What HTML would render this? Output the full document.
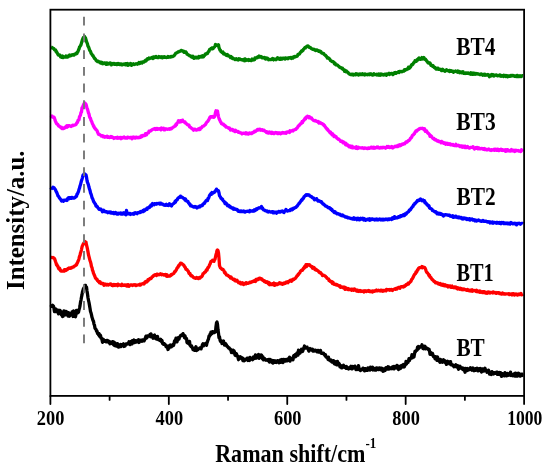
<!DOCTYPE html>
<html><head><meta charset="utf-8"><title>Raman spectra</title>
<style>html,body{margin:0;padding:0;background:#fff;overflow:hidden}svg{display:block}</style>
</head><body>
<svg width="550" height="471" viewBox="0 0 550 471">
<rect width="550" height="471" fill="#fff"/>
<g fill="none" stroke-width="3.3" stroke-linejoin="round" stroke-linecap="butt">
<path stroke="#000" d="M51.0,305.0 L51.5,306.2 L52.0,305.7 L52.5,305.2 L53.0,306.6 L53.5,306.1 L54.0,308.7 L54.5,311.7 L55.0,308.7 L55.5,308.9 L56.0,311.5 L56.5,311.7 L57.0,311.6 L57.5,310.0 L58.0,312.2 L58.5,313.9 L59.0,310.4 L59.5,312.6 L60.0,310.3 L60.5,312.0 L61.0,311.4 L61.5,314.9 L62.0,313.3 L62.5,316.5 L63.0,316.3 L63.5,315.5 L64.0,310.9 L64.5,314.3 L65.0,314.9 L65.5,314.8 L66.0,311.4 L66.5,313.2 L67.0,312.1 L67.5,312.5 L68.0,316.1 L68.5,312.7 L69.0,314.3 L69.5,316.2 L70.0,313.5 L70.5,314.4 L71.0,314.8 L71.5,314.6 L72.0,312.0 L72.5,314.3 L73.0,316.5 L73.5,310.8 L74.0,315.2 L74.5,313.6 L75.0,312.0 L75.5,316.8 L76.0,314.3 L76.5,310.3 L77.0,312.4 L77.5,313.0 L78.0,311.1 L78.5,312.3 L79.0,309.8 L79.5,308.1 L80.0,305.9 L80.5,302.2 L81.0,300.1 L81.5,297.1 L82.0,294.7 L82.5,291.8 L83.0,290.2 L83.5,288.6 L84.0,287.8 L84.5,287.1 L85.0,285.3 L85.5,285.4 L86.0,286.9 L86.5,287.0 L87.0,290.9 L87.5,294.1 L88.0,297.7 L88.5,300.2 L89.0,302.5 L89.5,305.4 L90.0,308.2 L90.5,311.5 L91.0,312.8 L91.5,314.9 L92.0,317.3 L92.5,318.7 L93.0,320.5 L93.5,321.2 L94.0,324.1 L94.5,325.2 L95.0,328.3 L95.5,328.9 L96.0,329.3 L96.5,331.2 L97.0,331.0 L97.5,333.5 L98.0,333.3 L98.5,334.8 L99.0,333.6 L99.5,336.3 L100.0,334.9 L100.5,335.4 L101.0,338.1 L101.5,338.1 L102.0,339.7 L102.5,342.3 L103.0,339.2 L103.5,339.6 L104.0,340.7 L104.5,341.2 L105.0,340.7 L105.5,340.8 L106.0,341.9 L106.5,341.9 L107.0,340.4 L107.5,341.6 L108.0,341.9 L108.5,340.9 L109.0,342.6 L109.5,341.6 L110.0,343.8 L110.5,343.2 L111.0,343.3 L111.5,342.8 L112.0,343.5 L112.5,341.6 L113.0,342.8 L113.5,344.7 L114.0,342.1 L114.5,345.6 L115.0,342.9 L115.5,345.8 L116.0,344.2 L116.5,346.1 L117.0,345.5 L117.5,343.7 L118.0,346.8 L118.5,347.1 L119.0,345.4 L119.5,345.2 L120.0,345.3 L120.5,344.4 L121.0,346.6 L121.5,344.8 L122.0,345.3 L122.5,344.4 L123.0,344.6 L123.5,343.8 L124.0,346.5 L124.5,344.9 L125.0,346.1 L125.5,344.9 L126.0,344.0 L126.5,344.1 L127.0,343.6 L127.5,344.0 L128.0,343.3 L128.5,343.1 L129.0,341.7 L129.5,342.1 L130.0,344.6 L130.5,341.9 L131.0,341.4 L131.5,342.8 L132.0,343.9 L132.5,340.6 L133.0,341.9 L133.5,341.3 L134.0,340.0 L134.5,342.7 L135.0,341.7 L135.5,341.7 L136.0,340.7 L136.5,342.0 L137.0,340.8 L137.5,341.1 L138.0,340.0 L138.5,339.8 L139.0,342.5 L139.5,340.4 L140.0,341.2 L140.5,340.8 L141.0,340.2 L141.5,340.1 L142.0,341.2 L142.5,340.0 L143.0,340.0 L143.5,339.9 L144.0,340.9 L144.5,339.9 L145.0,339.1 L145.5,337.5 L146.0,336.1 L146.5,338.1 L147.0,337.6 L147.5,335.9 L148.0,336.3 L148.5,336.2 L149.0,336.0 L149.5,336.0 L150.0,334.5 L150.5,336.7 L151.0,333.8 L151.5,336.3 L152.0,336.1 L152.5,336.8 L153.0,338.2 L153.5,338.0 L154.0,335.4 L154.5,335.1 L155.0,338.2 L155.5,336.4 L156.0,337.8 L156.5,339.1 L157.0,336.7 L157.5,336.5 L158.0,339.4 L158.5,339.6 L159.0,339.6 L159.5,340.3 L160.0,339.7 L160.5,339.3 L161.0,341.2 L161.5,340.8 L162.0,340.5 L162.5,343.4 L163.0,343.3 L163.5,344.4 L164.0,343.4 L164.5,344.3 L165.0,344.4 L165.5,345.0 L166.0,346.6 L166.5,345.9 L167.0,347.4 L167.5,347.6 L168.0,349.5 L168.5,345.8 L169.0,348.2 L169.5,347.0 L170.0,346.8 L170.5,345.0 L171.0,345.8 L171.5,346.7 L172.0,345.4 L172.5,345.2 L173.0,344.4 L173.5,345.5 L174.0,343.8 L174.5,341.0 L175.0,342.2 L175.5,340.2 L176.0,338.2 L176.5,340.5 L177.0,341.9 L177.5,339.8 L178.0,337.8 L178.5,337.5 L179.0,339.1 L179.5,337.3 L180.0,336.5 L180.5,335.7 L181.0,335.2 L181.5,335.5 L182.0,335.0 L182.5,334.7 L183.0,333.6 L183.5,335.7 L184.0,335.0 L184.5,337.7 L185.0,335.9 L185.5,338.0 L186.0,339.0 L186.5,338.4 L187.0,342.5 L187.5,342.9 L188.0,341.4 L188.5,343.5 L189.0,343.8 L189.5,341.3 L190.0,345.2 L190.5,345.6 L191.0,346.5 L191.5,345.8 L192.0,347.3 L192.5,347.8 L193.0,349.6 L193.5,348.9 L194.0,348.5 L194.5,350.3 L195.0,348.0 L195.5,348.3 L196.0,346.7 L196.5,350.5 L197.0,349.8 L197.5,349.8 L198.0,349.5 L198.5,348.9 L199.0,348.9 L199.5,348.2 L200.0,347.9 L200.5,347.7 L201.0,348.9 L201.5,347.3 L202.0,346.1 L202.5,344.6 L203.0,343.7 L203.5,345.8 L204.0,344.6 L204.5,344.3 L205.0,344.1 L205.5,343.4 L206.0,344.6 L206.5,345.3 L207.0,342.8 L207.5,341.6 L208.0,340.1 L208.5,339.1 L209.0,336.1 L209.5,336.3 L210.0,334.3 L210.5,335.0 L211.0,332.1 L211.5,332.9 L212.0,333.7 L212.5,331.7 L213.0,331.6 L213.5,332.7 L214.0,332.7 L214.5,331.7 L215.0,332.3 L215.5,331.7 L216.0,326.4 L216.5,322.9 L217.0,322.0 L217.5,324.3 L218.0,329.6 L218.5,333.2 L219.0,337.7 L219.5,336.7 L220.0,340.0 L220.5,341.3 L221.0,340.6 L221.5,341.5 L222.0,343.5 L222.5,341.6 L223.0,341.5 L223.5,341.1 L224.0,343.1 L224.5,345.2 L225.0,345.2 L225.5,343.6 L226.0,344.2 L226.5,345.1 L227.0,346.4 L227.5,346.4 L228.0,347.3 L228.5,347.9 L229.0,347.7 L229.5,348.5 L230.0,349.2 L230.5,349.4 L231.0,350.5 L231.5,352.5 L232.0,351.5 L232.5,351.5 L233.0,350.1 L233.5,352.9 L234.0,350.9 L234.5,352.0 L235.0,355.1 L235.5,355.5 L236.0,355.0 L236.5,353.8 L237.0,355.8 L237.5,355.8 L238.0,357.6 L238.5,359.7 L239.0,357.8 L239.5,356.9 L240.0,356.7 L240.5,358.2 L241.0,358.3 L241.5,357.5 L242.0,359.1 L242.5,357.9 L243.0,360.6 L243.5,360.7 L244.0,360.8 L244.5,359.2 L245.0,360.3 L245.5,359.7 L246.0,359.4 L246.5,359.4 L247.0,358.3 L247.5,358.1 L248.0,360.5 L248.5,359.3 L249.0,359.6 L249.5,360.4 L250.0,357.3 L250.5,358.2 L251.0,359.1 L251.5,359.2 L252.0,358.3 L252.5,359.7 L253.0,358.6 L253.5,356.8 L254.0,356.9 L254.5,358.5 L255.0,357.8 L255.5,354.9 L256.0,358.2 L256.5,357.1 L257.0,357.6 L257.5,355.5 L258.0,355.4 L258.5,354.4 L259.0,358.4 L259.5,355.4 L260.0,357.5 L260.5,355.3 L261.0,356.6 L261.5,355.0 L262.0,356.8 L262.5,358.8 L263.0,356.9 L263.5,359.9 L264.0,359.5 L264.5,358.4 L265.0,359.4 L265.5,359.7 L266.0,360.3 L266.5,359.9 L267.0,359.7 L267.5,360.4 L268.0,359.7 L268.5,359.5 L269.0,360.9 L269.5,362.0 L270.0,359.4 L270.5,361.2 L271.0,360.5 L271.5,360.2 L272.0,362.3 L272.5,360.8 L273.0,363.1 L273.5,360.6 L274.0,361.9 L274.5,361.3 L275.0,360.8 L275.5,362.3 L276.0,361.5 L276.5,362.4 L277.0,361.7 L277.5,360.6 L278.0,361.7 L278.5,361.8 L279.0,362.8 L279.5,360.8 L280.0,361.7 L280.5,359.9 L281.0,362.4 L281.5,360.4 L282.0,359.6 L282.5,361.4 L283.0,362.5 L283.5,359.5 L284.0,359.9 L284.5,360.1 L285.0,359.6 L285.5,361.1 L286.0,359.6 L286.5,359.6 L287.0,360.9 L287.5,359.2 L288.0,360.4 L288.5,358.7 L289.0,358.2 L289.5,357.3 L290.0,361.2 L290.5,358.6 L291.0,359.0 L291.5,358.4 L292.0,358.4 L292.5,358.0 L293.0,359.8 L293.5,356.3 L294.0,355.4 L294.5,355.6 L295.0,354.8 L295.5,356.7 L296.0,356.3 L296.5,353.9 L297.0,352.9 L297.5,353.6 L298.0,355.1 L298.5,350.1 L299.0,353.4 L299.5,351.2 L300.0,353.2 L300.5,350.5 L301.0,351.1 L301.5,349.3 L302.0,349.5 L302.5,351.5 L303.0,350.3 L303.5,348.5 L304.0,347.5 L304.5,346.0 L305.0,347.6 L305.5,348.0 L306.0,348.0 L306.5,348.1 L307.0,347.1 L307.5,348.4 L308.0,348.6 L308.5,350.3 L309.0,351.1 L309.5,349.1 L310.0,348.6 L310.5,349.6 L311.0,349.2 L311.5,349.2 L312.0,350.1 L312.5,349.2 L313.0,351.1 L313.5,350.5 L314.0,351.0 L314.5,350.7 L315.0,350.2 L315.5,350.1 L316.0,351.0 L316.5,350.8 L317.0,351.8 L317.5,351.7 L318.0,350.4 L318.5,352.1 L319.0,350.7 L319.5,351.7 L320.0,352.2 L320.5,350.4 L321.0,353.0 L321.5,353.3 L322.0,353.2 L322.5,353.1 L323.0,353.5 L323.5,353.2 L324.0,354.4 L324.5,354.5 L325.0,355.7 L325.5,354.8 L326.0,356.9 L326.5,357.3 L327.0,357.5 L327.5,357.7 L328.0,359.2 L328.5,357.2 L329.0,359.9 L329.5,360.0 L330.0,360.4 L330.5,360.9 L331.0,360.0 L331.5,360.8 L332.0,362.1 L332.5,362.1 L333.0,362.2 L333.5,360.6 L334.0,363.1 L334.5,364.0 L335.0,364.1 L335.5,363.5 L336.0,361.8 L336.5,364.8 L337.0,363.8 L337.5,361.4 L338.0,364.9 L338.5,363.0 L339.0,363.5 L339.5,364.4 L340.0,366.8 L340.5,365.2 L341.0,366.1 L341.5,367.9 L342.0,367.9 L342.5,366.2 L343.0,366.3 L343.5,365.3 L344.0,366.1 L344.5,367.4 L345.0,367.5 L345.5,367.3 L346.0,368.4 L346.5,366.5 L347.0,367.4 L347.5,368.4 L348.0,368.3 L348.5,368.9 L349.0,368.3 L349.5,367.6 L350.0,368.4 L350.5,367.0 L351.0,366.3 L351.5,368.8 L352.0,368.2 L352.5,368.7 L353.0,366.5 L353.5,368.0 L354.0,367.8 L354.5,367.6 L355.0,366.1 L355.5,368.2 L356.0,369.6 L356.5,369.0 L357.0,368.0 L357.5,368.6 L358.0,369.5 L358.5,365.6 L359.0,368.5 L359.5,369.3 L360.0,369.4 L360.5,370.6 L361.0,369.9 L361.5,369.1 L362.0,369.1 L362.5,369.6 L363.0,368.1 L363.5,368.7 L364.0,369.8 L364.5,370.9 L365.0,368.6 L365.5,368.7 L366.0,369.0 L366.5,370.3 L367.0,368.8 L367.5,370.4 L368.0,367.8 L368.5,368.6 L369.0,368.6 L369.5,369.7 L370.0,370.0 L370.5,367.2 L371.0,367.8 L371.5,369.2 L372.0,368.1 L372.5,367.2 L373.0,370.0 L373.5,369.4 L374.0,369.4 L374.5,368.4 L375.0,370.0 L375.5,368.6 L376.0,370.1 L376.5,367.9 L377.0,368.0 L377.5,369.1 L378.0,368.1 L378.5,369.6 L379.0,369.2 L379.5,367.9 L380.0,369.0 L380.5,368.5 L381.0,369.9 L381.5,368.2 L382.0,368.4 L382.5,370.2 L383.0,371.3 L383.5,371.1 L384.0,368.9 L384.5,369.1 L385.0,370.5 L385.5,368.6 L386.0,367.6 L386.5,368.8 L387.0,369.1 L387.5,367.7 L388.0,366.7 L388.5,366.9 L389.0,369.1 L389.5,367.5 L390.0,368.1 L390.5,368.4 L391.0,368.8 L391.5,367.7 L392.0,368.5 L392.5,366.9 L393.0,367.4 L393.5,366.6 L394.0,368.9 L394.5,367.5 L395.0,366.6 L395.5,367.0 L396.0,367.0 L396.5,367.9 L397.0,365.3 L397.5,365.8 L398.0,366.4 L398.5,369.5 L399.0,367.7 L399.5,366.4 L400.0,367.2 L400.5,368.5 L401.0,365.8 L401.5,365.5 L402.0,367.1 L402.5,366.1 L403.0,366.1 L403.5,364.5 L404.0,367.0 L404.5,366.5 L405.0,364.9 L405.5,364.7 L406.0,361.4 L406.5,363.9 L407.0,362.5 L407.5,362.7 L408.0,362.4 L408.5,360.8 L409.0,358.7 L409.5,360.5 L410.0,358.7 L410.5,358.6 L411.0,357.7 L411.5,357.4 L412.0,354.6 L412.5,357.9 L413.0,356.2 L413.5,356.5 L414.0,356.8 L414.5,354.0 L415.0,351.3 L415.5,351.6 L416.0,350.5 L416.5,350.4 L417.0,350.2 L417.5,347.2 L418.0,349.1 L418.5,346.5 L419.0,348.1 L419.5,347.4 L420.0,347.0 L420.5,347.0 L421.0,346.3 L421.5,346.1 L422.0,344.8 L422.5,346.5 L423.0,348.5 L423.5,348.7 L424.0,348.1 L424.5,347.6 L425.0,346.3 L425.5,348.9 L426.0,347.6 L426.5,347.9 L427.0,348.0 L427.5,348.8 L428.0,348.7 L428.5,349.7 L429.0,349.2 L429.5,350.7 L430.0,354.3 L430.5,352.3 L431.0,352.7 L431.5,354.1 L432.0,354.8 L432.5,353.4 L433.0,354.9 L433.5,356.6 L434.0,356.4 L434.5,356.7 L435.0,358.7 L435.5,356.7 L436.0,358.0 L436.5,357.8 L437.0,360.4 L437.5,357.0 L438.0,358.8 L438.5,359.4 L439.0,361.0 L439.5,361.2 L440.0,362.3 L440.5,359.3 L441.0,362.0 L441.5,361.0 L442.0,360.8 L442.5,362.3 L443.0,360.8 L443.5,359.7 L444.0,361.7 L444.5,360.5 L445.0,361.6 L445.5,362.8 L446.0,362.9 L446.5,364.4 L447.0,362.6 L447.5,361.2 L448.0,362.2 L448.5,362.2 L449.0,362.0 L449.5,363.9 L450.0,362.9 L450.5,361.6 L451.0,364.8 L451.5,364.1 L452.0,364.8 L452.5,364.8 L453.0,365.6 L453.5,365.2 L454.0,366.7 L454.5,366.1 L455.0,366.3 L455.5,366.6 L456.0,364.8 L456.5,366.4 L457.0,366.5 L457.5,367.3 L458.0,365.8 L458.5,369.3 L459.0,367.8 L459.5,366.6 L460.0,366.2 L460.5,367.9 L461.0,368.3 L461.5,367.7 L462.0,368.7 L462.5,368.0 L463.0,369.5 L463.5,368.2 L464.0,369.1 L464.5,370.3 L465.0,372.2 L465.5,368.3 L466.0,369.0 L466.5,368.7 L467.0,370.6 L467.5,368.5 L468.0,369.4 L468.5,369.9 L469.0,368.9 L469.5,369.0 L470.0,369.6 L470.5,367.8 L471.0,368.5 L471.5,369.6 L472.0,370.2 L472.5,369.8 L473.0,368.0 L473.5,369.4 L474.0,370.8 L474.5,370.4 L475.0,369.7 L475.5,368.7 L476.0,370.3 L476.5,368.9 L477.0,368.2 L477.5,368.5 L478.0,370.9 L478.5,369.5 L479.0,370.5 L479.5,368.7 L480.0,370.2 L480.5,368.5 L481.0,369.0 L481.5,372.0 L482.0,370.2 L482.5,368.9 L483.0,369.4 L483.5,370.0 L484.0,371.1 L484.5,369.4 L485.0,368.2 L485.5,370.0 L486.0,370.5 L486.5,370.7 L487.0,372.3 L487.5,371.4 L488.0,372.1 L488.5,370.2 L489.0,372.6 L489.5,374.1 L490.0,372.8 L490.5,372.5 L491.0,372.5 L491.5,374.5 L492.0,371.7 L492.5,372.7 L493.0,373.4 L493.5,373.9 L494.0,372.6 L494.5,373.5 L495.0,372.9 L495.5,373.4 L496.0,373.2 L496.5,372.1 L497.0,373.4 L497.5,374.4 L498.0,372.5 L498.5,373.3 L499.0,374.4 L499.5,372.5 L500.0,373.9 L500.5,372.6 L501.0,375.0 L501.5,376.4 L502.0,376.1 L502.5,373.7 L503.0,374.8 L503.5,374.1 L504.0,374.1 L504.5,375.8 L505.0,372.7 L505.5,375.3 L506.0,374.1 L506.5,375.8 L507.0,374.5 L507.5,373.5 L508.0,374.6 L508.5,375.2 L509.0,374.4 L509.5,374.9 L510.0,373.9 L510.5,372.1 L511.0,375.5 L511.5,375.3 L512.0,374.7 L512.5,374.6 L513.0,375.7 L513.5,374.1 L514.0,373.8 L514.5,374.4 L515.0,376.0 L515.5,373.1 L516.0,376.0 L516.5,374.0 L517.0,373.5 L517.5,376.1 L518.0,374.6 L518.5,373.3 L519.0,374.4 L519.5,375.8 L520.0,376.1 L520.5,374.3 L521.0,375.2 L521.5,375.6 L522.0,374.1 L522.5,375.2 L523.0,374.8"/>
<path stroke="#f00" d="M51.0,257.4 L51.5,257.4 L52.0,257.7 L52.5,257.7 L53.0,257.5 L53.5,257.7 L54.0,258.5 L54.5,258.6 L55.0,259.9 L55.5,261.5 L56.0,262.8 L56.5,264.9 L57.0,264.7 L57.5,266.2 L58.0,266.5 L58.5,268.3 L59.0,269.0 L59.5,268.2 L60.0,269.3 L60.5,270.5 L61.0,271.0 L61.5,271.2 L62.0,271.0 L62.5,271.2 L63.0,271.2 L63.5,270.8 L64.0,271.1 L64.5,269.6 L65.0,270.6 L65.5,269.7 L66.0,270.4 L66.5,269.6 L67.0,269.1 L67.5,269.4 L68.0,268.6 L68.5,268.4 L69.0,267.9 L69.5,268.3 L70.0,268.3 L70.5,268.3 L71.0,267.7 L71.5,268.0 L72.0,267.4 L72.5,267.2 L73.0,267.2 L73.5,267.2 L74.0,266.4 L74.5,266.2 L75.0,265.9 L75.5,265.6 L76.0,264.7 L76.5,264.9 L77.0,263.4 L77.5,262.8 L78.0,261.2 L78.5,260.4 L79.0,258.7 L79.5,256.4 L80.0,255.5 L80.5,252.9 L81.0,251.7 L81.5,249.5 L82.0,247.0 L82.5,245.5 L83.0,244.7 L83.5,243.6 L84.0,242.8 L84.5,242.2 L85.0,241.6 L85.5,242.5 L86.0,242.2 L86.5,245.0 L87.0,246.9 L87.5,249.2 L88.0,251.9 L88.5,254.8 L89.0,256.6 L89.5,258.7 L90.0,260.7 L90.5,261.9 L91.0,263.9 L91.5,266.7 L92.0,267.5 L92.5,270.2 L93.0,271.2 L93.5,273.3 L94.0,274.3 L94.5,275.5 L95.0,276.7 L95.5,278.2 L96.0,278.5 L96.5,279.2 L97.0,279.4 L97.5,280.7 L98.0,280.8 L98.5,281.7 L99.0,281.8 L99.5,282.9 L100.0,281.7 L100.5,282.7 L101.0,283.5 L101.5,283.2 L102.0,283.3 L102.5,283.7 L103.0,283.5 L103.5,284.2 L104.0,285.3 L104.5,284.9 L105.0,284.0 L105.5,284.1 L106.0,284.4 L106.5,285.0 L107.0,284.3 L107.5,284.4 L108.0,285.1 L108.5,285.1 L109.0,284.6 L109.5,284.3 L110.0,284.1 L110.5,284.5 L111.0,283.9 L111.5,285.2 L112.0,284.6 L112.5,285.1 L113.0,285.7 L113.5,285.4 L114.0,284.5 L114.5,285.3 L115.0,285.5 L115.5,284.7 L116.0,284.6 L116.5,285.0 L117.0,284.4 L117.5,285.7 L118.0,284.1 L118.5,284.6 L119.0,285.0 L119.5,285.0 L120.0,285.2 L120.5,285.3 L121.0,285.1 L121.5,285.6 L122.0,284.3 L122.5,285.2 L123.0,284.9 L123.5,285.3 L124.0,285.3 L124.5,284.8 L125.0,284.9 L125.5,285.5 L126.0,285.3 L126.5,284.9 L127.0,286.1 L127.5,286.2 L128.0,284.6 L128.5,285.3 L129.0,286.2 L129.5,285.5 L130.0,285.3 L130.5,285.1 L131.0,284.9 L131.5,285.1 L132.0,284.9 L132.5,285.4 L133.0,284.9 L133.5,284.9 L134.0,284.6 L134.5,285.1 L135.0,284.7 L135.5,285.0 L136.0,285.5 L136.5,285.2 L137.0,285.2 L137.5,285.1 L138.0,285.0 L138.5,284.8 L139.0,284.7 L139.5,285.0 L140.0,284.2 L140.5,285.1 L141.0,284.4 L141.5,283.9 L142.0,283.9 L142.5,283.7 L143.0,283.8 L143.5,283.3 L144.0,283.9 L144.5,282.9 L145.0,282.0 L145.5,282.4 L146.0,281.5 L146.5,281.9 L147.0,281.8 L147.5,281.1 L148.0,279.7 L148.5,279.4 L149.0,279.9 L149.5,278.8 L150.0,278.3 L150.5,278.4 L151.0,278.6 L151.5,277.8 L152.0,277.0 L152.5,276.7 L153.0,276.5 L153.5,275.6 L154.0,275.1 L154.5,275.3 L155.0,274.7 L155.5,274.8 L156.0,274.7 L156.5,275.5 L157.0,274.1 L157.5,274.3 L158.0,274.3 L158.5,274.6 L159.0,274.9 L159.5,274.2 L160.0,274.1 L160.5,273.8 L161.0,274.2 L161.5,274.8 L162.0,274.7 L162.5,274.3 L163.0,274.6 L163.5,274.8 L164.0,275.1 L164.5,274.7 L165.0,274.9 L165.5,274.4 L166.0,274.8 L166.5,276.2 L167.0,274.8 L167.5,275.8 L168.0,276.3 L168.5,276.1 L169.0,276.0 L169.5,276.2 L170.0,276.0 L170.5,275.7 L171.0,274.6 L171.5,275.0 L172.0,274.3 L172.5,274.0 L173.0,273.9 L173.5,273.6 L174.0,273.1 L174.5,271.9 L175.0,271.7 L175.5,271.1 L176.0,270.2 L176.5,269.5 L177.0,268.2 L177.5,267.5 L178.0,267.3 L178.5,265.7 L179.0,265.7 L179.5,264.7 L180.0,264.2 L180.5,263.2 L181.0,263.2 L181.5,263.4 L182.0,263.9 L182.5,264.3 L183.0,264.5 L183.5,265.1 L184.0,265.5 L184.5,266.7 L185.0,267.1 L185.5,268.1 L186.0,269.4 L186.5,269.4 L187.0,269.5 L187.5,270.4 L188.0,270.9 L188.5,271.7 L189.0,273.4 L189.5,273.6 L190.0,273.5 L190.5,275.0 L191.0,275.7 L191.5,275.5 L192.0,275.8 L192.5,276.4 L193.0,277.0 L193.5,277.4 L194.0,277.8 L194.5,278.0 L195.0,278.1 L195.5,278.4 L196.0,278.2 L196.5,277.4 L197.0,278.1 L197.5,278.3 L198.0,278.0 L198.5,278.5 L199.0,277.9 L199.5,277.4 L200.0,278.1 L200.5,277.4 L201.0,276.9 L201.5,276.8 L202.0,276.3 L202.5,275.4 L203.0,273.6 L203.5,273.7 L204.0,273.2 L204.5,272.3 L205.0,272.2 L205.5,272.0 L206.0,270.6 L206.5,269.7 L207.0,270.3 L207.5,268.5 L208.0,267.5 L208.5,267.3 L209.0,266.5 L209.5,264.9 L210.0,264.3 L210.5,262.7 L211.0,261.5 L211.5,261.2 L212.0,261.1 L212.5,260.3 L213.0,260.6 L213.5,260.3 L214.0,261.4 L214.5,259.6 L215.0,259.3 L215.5,256.8 L216.0,254.7 L216.5,252.9 L217.0,250.5 L217.5,249.9 L218.0,250.7 L218.5,252.9 L219.0,258.2 L219.5,265.7 L220.0,266.9 L220.5,268.0 L221.0,268.1 L221.5,268.7 L222.0,269.4 L222.5,269.5 L223.0,269.4 L223.5,270.2 L224.0,270.8 L224.5,272.7 L225.0,272.2 L225.5,273.7 L226.0,273.9 L226.5,274.9 L227.0,275.1 L227.5,275.1 L228.0,275.4 L228.5,276.0 L229.0,276.4 L229.5,276.5 L230.0,277.0 L230.5,278.1 L231.0,277.0 L231.5,278.2 L232.0,278.1 L232.5,278.8 L233.0,279.4 L233.5,279.4 L234.0,280.0 L234.5,279.3 L235.0,280.7 L235.5,280.3 L236.0,281.1 L236.5,281.1 L237.0,280.2 L237.5,281.2 L238.0,281.9 L238.5,282.7 L239.0,282.4 L239.5,282.7 L240.0,282.2 L240.5,283.6 L241.0,284.0 L241.5,283.4 L242.0,283.4 L242.5,282.8 L243.0,283.9 L243.5,284.6 L244.0,283.8 L244.5,284.0 L245.0,283.6 L245.5,282.9 L246.0,283.9 L246.5,282.7 L247.0,283.1 L247.5,283.2 L248.0,283.4 L248.5,283.1 L249.0,283.0 L249.5,282.5 L250.0,282.1 L250.5,282.6 L251.0,282.2 L251.5,281.8 L252.0,281.7 L252.5,281.9 L253.0,281.2 L253.5,281.2 L254.0,280.8 L254.5,281.3 L255.0,281.0 L255.5,281.4 L256.0,279.5 L256.5,279.5 L257.0,279.9 L257.5,279.1 L258.0,278.8 L258.5,279.5 L259.0,278.5 L259.5,278.1 L260.0,278.1 L260.5,278.9 L261.0,279.1 L261.5,278.7 L262.0,279.1 L262.5,280.1 L263.0,280.5 L263.5,280.4 L264.0,281.3 L264.5,281.7 L265.0,281.0 L265.5,281.9 L266.0,282.4 L266.5,282.2 L267.0,281.7 L267.5,282.7 L268.0,283.4 L268.5,283.9 L269.0,282.5 L269.5,284.7 L270.0,283.3 L270.5,284.3 L271.0,284.5 L271.5,284.5 L272.0,284.2 L272.5,283.7 L273.0,284.5 L273.5,283.9 L274.0,283.1 L274.5,285.4 L275.0,284.4 L275.5,284.9 L276.0,283.7 L276.5,284.7 L277.0,284.7 L277.5,284.6 L278.0,283.9 L278.5,283.4 L279.0,283.8 L279.5,282.8 L280.0,283.0 L280.5,283.7 L281.0,283.2 L281.5,283.5 L282.0,283.5 L282.5,284.3 L283.0,283.9 L283.5,283.3 L284.0,283.7 L284.5,282.8 L285.0,282.9 L285.5,283.3 L286.0,282.3 L286.5,282.6 L287.0,281.9 L287.5,282.3 L288.0,282.7 L288.5,281.5 L289.0,281.6 L289.5,280.9 L290.0,280.5 L290.5,280.2 L291.0,281.1 L291.5,281.3 L292.0,280.3 L292.5,279.5 L293.0,279.9 L293.5,279.2 L294.0,279.4 L294.5,278.9 L295.0,278.6 L295.5,278.3 L296.0,277.4 L296.5,276.9 L297.0,275.8 L297.5,275.7 L298.0,274.6 L298.5,274.4 L299.0,273.4 L299.5,273.1 L300.0,272.6 L300.5,271.1 L301.0,270.8 L301.5,270.2 L302.0,270.4 L302.5,270.2 L303.0,269.3 L303.5,268.2 L304.0,268.4 L304.5,266.6 L305.0,267.3 L305.5,265.9 L306.0,264.6 L306.5,266.6 L307.0,265.9 L307.5,264.6 L308.0,265.1 L308.5,265.0 L309.0,265.2 L309.5,264.7 L310.0,265.3 L310.5,266.0 L311.0,266.2 L311.5,267.0 L312.0,266.8 L312.5,268.2 L313.0,267.3 L313.5,268.1 L314.0,267.5 L314.5,268.2 L315.0,269.6 L315.5,269.0 L316.0,270.0 L316.5,270.0 L317.0,270.0 L317.5,270.6 L318.0,270.9 L318.5,271.3 L319.0,272.2 L319.5,272.5 L320.0,272.4 L320.5,272.6 L321.0,273.5 L321.5,273.7 L322.0,274.5 L322.5,275.6 L323.0,275.2 L323.5,275.2 L324.0,275.5 L324.5,275.6 L325.0,276.0 L325.5,276.4 L326.0,277.0 L326.5,277.4 L327.0,278.3 L327.5,278.3 L328.0,278.8 L328.5,278.8 L329.0,280.4 L329.5,280.3 L330.0,281.3 L330.5,281.3 L331.0,281.9 L331.5,281.6 L332.0,282.4 L332.5,283.6 L333.0,282.3 L333.5,283.6 L334.0,284.2 L334.5,283.9 L335.0,284.4 L335.5,284.8 L336.0,284.3 L336.5,285.0 L337.0,284.6 L337.5,285.0 L338.0,285.2 L338.5,285.6 L339.0,286.0 L339.5,286.3 L340.0,285.7 L340.5,287.4 L341.0,287.2 L341.5,287.2 L342.0,287.0 L342.5,287.3 L343.0,287.7 L343.5,287.8 L344.0,287.1 L344.5,288.3 L345.0,289.4 L345.5,287.5 L346.0,288.8 L346.5,288.7 L347.0,288.6 L347.5,289.4 L348.0,288.4 L348.5,289.1 L349.0,289.7 L349.5,289.1 L350.0,289.1 L350.5,289.4 L351.0,289.3 L351.5,290.2 L352.0,289.2 L352.5,290.1 L353.0,289.3 L353.5,290.2 L354.0,289.9 L354.5,288.9 L355.0,290.1 L355.5,289.8 L356.0,290.1 L356.5,291.0 L357.0,290.0 L357.5,290.1 L358.0,291.2 L358.5,290.7 L359.0,291.4 L359.5,290.9 L360.0,290.4 L360.5,290.9 L361.0,291.5 L361.5,291.4 L362.0,291.0 L362.5,291.1 L363.0,291.0 L363.5,290.9 L364.0,292.0 L364.5,291.2 L365.0,290.7 L365.5,291.0 L366.0,291.5 L366.5,291.5 L367.0,291.1 L367.5,290.9 L368.0,291.2 L368.5,290.5 L369.0,290.6 L369.5,291.5 L370.0,291.0 L370.5,291.3 L371.0,291.7 L371.5,291.4 L372.0,291.1 L372.5,292.0 L373.0,291.4 L373.5,290.9 L374.0,291.4 L374.5,291.2 L375.0,290.7 L375.5,291.0 L376.0,290.9 L376.5,290.1 L377.0,290.9 L377.5,290.8 L378.0,290.7 L378.5,290.2 L379.0,290.7 L379.5,290.8 L380.0,290.8 L380.5,290.3 L381.0,291.0 L381.5,290.2 L382.0,290.6 L382.5,291.2 L383.0,290.3 L383.5,290.3 L384.0,291.0 L384.5,290.3 L385.0,290.3 L385.5,290.5 L386.0,290.8 L386.5,289.4 L387.0,289.9 L387.5,289.8 L388.0,289.7 L388.5,289.8 L389.0,289.7 L389.5,290.2 L390.0,289.6 L390.5,290.0 L391.0,290.1 L391.5,289.5 L392.0,289.8 L392.5,290.4 L393.0,289.8 L393.5,289.3 L394.0,289.4 L394.5,288.9 L395.0,289.2 L395.5,289.3 L396.0,288.4 L396.5,288.5 L397.0,288.9 L397.5,288.0 L398.0,288.2 L398.5,287.4 L399.0,287.3 L399.5,287.3 L400.0,288.2 L400.5,287.0 L401.0,286.8 L401.5,286.6 L402.0,286.6 L402.5,286.8 L403.0,286.5 L403.5,287.1 L404.0,286.2 L404.5,286.5 L405.0,285.8 L405.5,285.7 L406.0,284.6 L406.5,284.9 L407.0,284.6 L407.5,284.2 L408.0,283.1 L408.5,284.0 L409.0,283.0 L409.5,282.6 L410.0,282.2 L410.5,281.6 L411.0,281.2 L411.5,279.7 L412.0,279.0 L412.5,278.6 L413.0,277.6 L413.5,276.5 L414.0,275.4 L414.5,274.5 L415.0,274.0 L415.5,273.7 L416.0,272.0 L416.5,272.2 L417.0,271.2 L417.5,269.9 L418.0,269.8 L418.5,268.4 L419.0,267.9 L419.5,267.6 L420.0,267.7 L420.5,267.5 L421.0,267.3 L421.5,267.5 L422.0,266.6 L422.5,267.7 L423.0,266.9 L423.5,267.3 L424.0,267.4 L424.5,267.4 L425.0,268.0 L425.5,269.1 L426.0,270.6 L426.5,271.9 L427.0,272.7 L427.5,272.8 L428.0,273.6 L428.5,274.3 L429.0,275.6 L429.5,275.2 L430.0,277.2 L430.5,277.1 L431.0,277.6 L431.5,278.6 L432.0,279.4 L432.5,279.6 L433.0,280.4 L433.5,280.5 L434.0,281.4 L434.5,281.8 L435.0,281.6 L435.5,282.7 L436.0,282.5 L436.5,282.8 L437.0,282.6 L437.5,283.1 L438.0,283.8 L438.5,283.2 L439.0,284.2 L439.5,284.3 L440.0,284.5 L440.5,283.6 L441.0,284.7 L441.5,285.1 L442.0,284.7 L442.5,285.2 L443.0,284.2 L443.5,285.6 L444.0,285.1 L444.5,285.8 L445.0,284.8 L445.5,285.9 L446.0,285.6 L446.5,286.1 L447.0,285.5 L447.5,285.7 L448.0,287.0 L448.5,285.8 L449.0,285.9 L449.5,286.2 L450.0,286.0 L450.5,287.0 L451.0,287.3 L451.5,286.4 L452.0,286.1 L452.5,287.4 L453.0,287.5 L453.5,287.5 L454.0,287.7 L454.5,287.0 L455.0,287.4 L455.5,287.0 L456.0,287.1 L456.5,288.2 L457.0,287.6 L457.5,289.0 L458.0,288.2 L458.5,288.0 L459.0,288.7 L459.5,289.2 L460.0,288.8 L460.5,288.2 L461.0,289.0 L461.5,289.5 L462.0,288.8 L462.5,288.8 L463.0,289.7 L463.5,289.4 L464.0,289.0 L464.5,289.4 L465.0,289.3 L465.5,289.9 L466.0,289.9 L466.5,290.4 L467.0,290.3 L467.5,289.4 L468.0,290.3 L468.5,290.6 L469.0,290.5 L469.5,290.8 L470.0,290.2 L470.5,290.1 L471.0,291.0 L471.5,290.2 L472.0,289.8 L472.5,291.2 L473.0,290.6 L473.5,290.8 L474.0,290.4 L474.5,290.5 L475.0,290.6 L475.5,291.0 L476.0,291.4 L476.5,290.3 L477.0,291.6 L477.5,290.9 L478.0,291.0 L478.5,291.8 L479.0,291.5 L479.5,291.0 L480.0,292.4 L480.5,291.3 L481.0,291.9 L481.5,291.9 L482.0,292.4 L482.5,291.7 L483.0,292.4 L483.5,291.7 L484.0,292.5 L484.5,291.8 L485.0,292.0 L485.5,293.0 L486.0,292.3 L486.5,292.3 L487.0,293.2 L487.5,292.5 L488.0,292.0 L488.5,292.7 L489.0,292.0 L489.5,293.0 L490.0,293.1 L490.5,292.3 L491.0,292.4 L491.5,292.7 L492.0,292.7 L492.5,292.3 L493.0,293.0 L493.5,292.0 L494.0,292.7 L494.5,292.7 L495.0,292.8 L495.5,293.1 L496.0,292.5 L496.5,293.3 L497.0,293.0 L497.5,292.8 L498.0,292.6 L498.5,292.7 L499.0,293.4 L499.5,292.9 L500.0,293.3 L500.5,293.8 L501.0,293.8 L501.5,294.1 L502.0,293.3 L502.5,293.0 L503.0,293.9 L503.5,293.7 L504.0,294.0 L504.5,293.6 L505.0,294.1 L505.5,294.0 L506.0,294.0 L506.5,293.9 L507.0,293.9 L507.5,293.9 L508.0,293.9 L508.5,294.3 L509.0,293.7 L509.5,294.6 L510.0,293.9 L510.5,294.4 L511.0,294.0 L511.5,293.9 L512.0,294.9 L512.5,294.0 L513.0,293.6 L513.5,293.8 L514.0,294.0 L514.5,295.1 L515.0,294.3 L515.5,294.6 L516.0,293.9 L516.5,294.5 L517.0,294.6 L517.5,295.1 L518.0,294.1 L518.5,294.7 L519.0,294.6 L519.5,294.0 L520.0,294.5 L520.5,294.4 L521.0,293.5 L521.5,294.8 L522.0,294.8 L522.5,294.4 L523.0,294.0"/>
<path stroke="#00f" d="M51.0,189.6 L51.5,188.4 L52.0,188.3 L52.5,188.1 L53.0,187.2 L53.5,187.8 L54.0,187.7 L54.5,188.4 L55.0,189.1 L55.5,189.8 L56.0,191.3 L56.5,192.0 L57.0,193.2 L57.5,194.5 L58.0,195.8 L58.5,196.2 L59.0,197.1 L59.5,198.0 L60.0,198.5 L60.5,199.3 L61.0,199.6 L61.5,201.1 L62.0,201.0 L62.5,200.6 L63.0,200.3 L63.5,201.2 L64.0,200.4 L64.5,200.1 L65.0,200.2 L65.5,200.1 L66.0,200.4 L66.5,199.7 L67.0,200.4 L67.5,198.8 L68.0,199.0 L68.5,197.8 L69.0,198.7 L69.5,197.7 L70.0,197.8 L70.5,198.2 L71.0,198.4 L71.5,197.5 L72.0,197.9 L72.5,197.5 L73.0,198.2 L73.5,198.1 L74.0,198.1 L74.5,197.8 L75.0,197.5 L75.5,196.8 L76.0,196.7 L76.5,196.3 L77.0,194.1 L77.5,193.9 L78.0,192.5 L78.5,191.5 L79.0,189.3 L79.5,188.1 L80.0,186.0 L80.5,184.7 L81.0,182.5 L81.5,180.6 L82.0,179.2 L82.5,177.3 L83.0,175.2 L83.5,174.9 L84.0,174.0 L84.5,173.7 L85.0,174.3 L85.5,174.7 L86.0,174.8 L86.5,177.1 L87.0,180.5 L87.5,182.5 L88.0,183.5 L88.5,185.2 L89.0,187.3 L89.5,189.1 L90.0,190.4 L90.5,192.9 L91.0,194.0 L91.5,195.5 L92.0,197.7 L92.5,198.4 L93.0,199.8 L93.5,201.2 L94.0,202.2 L94.5,202.7 L95.0,203.7 L95.5,204.2 L96.0,206.0 L96.5,206.3 L97.0,206.2 L97.5,207.2 L98.0,208.0 L98.5,208.3 L99.0,209.3 L99.5,209.4 L100.0,209.0 L100.5,209.5 L101.0,209.3 L101.5,210.2 L102.0,210.5 L102.5,211.8 L103.0,210.9 L103.5,210.2 L104.0,211.0 L104.5,211.5 L105.0,211.1 L105.5,211.4 L106.0,211.7 L106.5,212.1 L107.0,212.1 L107.5,211.9 L108.0,212.7 L108.5,212.2 L109.0,212.3 L109.5,212.0 L110.0,212.3 L110.5,213.0 L111.0,212.1 L111.5,212.8 L112.0,213.2 L112.5,212.8 L113.0,213.1 L113.5,212.6 L114.0,213.7 L114.5,213.6 L115.0,213.3 L115.5,212.5 L116.0,212.9 L116.5,213.8 L117.0,214.1 L117.5,213.5 L118.0,214.0 L118.5,213.2 L119.0,213.5 L119.5,213.6 L120.0,213.8 L120.5,213.0 L121.0,214.1 L121.5,214.2 L122.0,213.2 L122.5,213.2 L123.0,213.9 L123.5,213.5 L124.0,212.8 L124.5,214.1 L125.0,213.9 L125.5,213.6 L126.0,214.7 L126.5,210.5 L127.0,213.5 L127.5,213.8 L128.0,213.3 L128.5,213.4 L129.0,213.9 L129.5,213.5 L130.0,213.5 L130.5,214.4 L131.0,214.0 L131.5,214.0 L132.0,213.8 L132.5,213.8 L133.0,214.1 L133.5,213.5 L134.0,214.2 L134.5,213.0 L135.0,213.2 L135.5,212.7 L136.0,213.1 L136.5,213.4 L137.0,213.7 L137.5,212.8 L138.0,213.0 L138.5,212.8 L139.0,212.5 L139.5,212.2 L140.0,212.5 L140.5,211.6 L141.0,212.2 L141.5,211.9 L142.0,211.4 L142.5,211.0 L143.0,210.5 L143.5,211.6 L144.0,210.0 L144.5,210.9 L145.0,210.2 L145.5,209.5 L146.0,208.9 L146.5,209.5 L147.0,209.4 L147.5,207.9 L148.0,207.8 L148.5,207.9 L149.0,207.2 L149.5,207.5 L150.0,206.1 L150.5,206.2 L151.0,205.0 L151.5,206.0 L152.0,204.5 L152.5,203.6 L153.0,204.2 L153.5,204.1 L154.0,204.8 L154.5,203.7 L155.0,203.7 L155.5,203.9 L156.0,204.2 L156.5,203.5 L157.0,203.9 L157.5,203.7 L158.0,203.4 L158.5,203.6 L159.0,203.6 L159.5,203.2 L160.0,204.1 L160.5,203.1 L161.0,204.2 L161.5,204.2 L162.0,203.9 L162.5,203.8 L163.0,204.3 L163.5,204.8 L164.0,205.1 L164.5,205.1 L165.0,205.4 L165.5,204.8 L166.0,205.1 L166.5,204.3 L167.0,205.3 L167.5,205.1 L168.0,204.8 L168.5,205.5 L169.0,205.3 L169.5,203.8 L170.0,205.0 L170.5,204.4 L171.0,205.4 L171.5,206.0 L172.0,204.6 L172.5,204.5 L173.0,203.9 L173.5,203.6 L174.0,203.2 L174.5,202.9 L175.0,201.5 L175.5,202.0 L176.0,200.3 L176.5,200.2 L177.0,200.0 L177.5,199.3 L178.0,198.1 L178.5,197.8 L179.0,197.4 L179.5,197.2 L180.0,197.4 L180.5,196.1 L181.0,196.8 L181.5,197.0 L182.0,197.1 L182.5,197.4 L183.0,198.2 L183.5,198.2 L184.0,198.7 L184.5,198.9 L185.0,199.9 L185.5,198.9 L186.0,200.7 L186.5,200.6 L187.0,201.2 L187.5,201.4 L188.0,201.6 L188.5,202.8 L189.0,203.3 L189.5,204.4 L190.0,204.1 L190.5,205.8 L191.0,205.7 L191.5,205.9 L192.0,206.1 L192.5,206.5 L193.0,206.6 L193.5,207.0 L194.0,207.2 L194.5,207.1 L195.0,206.6 L195.5,207.1 L196.0,206.8 L196.5,207.3 L197.0,208.0 L197.5,207.5 L198.0,207.1 L198.5,206.5 L199.0,206.4 L199.5,206.1 L200.0,206.9 L200.5,206.0 L201.0,206.0 L201.5,205.4 L202.0,205.3 L202.5,205.5 L203.0,204.1 L203.5,203.8 L204.0,203.2 L204.5,203.4 L205.0,202.1 L205.5,201.5 L206.0,200.8 L206.5,200.2 L207.0,200.4 L207.5,200.6 L208.0,198.4 L208.5,198.3 L209.0,197.0 L209.5,195.5 L210.0,194.9 L210.5,194.2 L211.0,193.5 L211.5,194.3 L212.0,192.5 L212.5,193.3 L213.0,193.1 L213.5,192.5 L214.0,192.4 L214.5,192.2 L215.0,191.2 L215.5,190.7 L216.0,190.4 L216.5,189.1 L217.0,190.6 L217.5,191.0 L218.0,190.6 L218.5,190.8 L219.0,192.9 L219.5,195.7 L220.0,196.4 L220.5,197.2 L221.0,198.4 L221.5,198.3 L222.0,199.2 L222.5,199.1 L223.0,200.4 L223.5,201.1 L224.0,201.4 L224.5,201.9 L225.0,203.5 L225.5,202.6 L226.0,203.2 L226.5,203.7 L227.0,204.9 L227.5,205.7 L228.0,205.3 L228.5,205.2 L229.0,205.7 L229.5,206.7 L230.0,206.2 L230.5,207.5 L231.0,207.7 L231.5,207.5 L232.0,208.0 L232.5,208.3 L233.0,208.9 L233.5,208.1 L234.0,209.2 L234.5,208.8 L235.0,208.9 L235.5,209.4 L236.0,209.5 L236.5,209.4 L237.0,209.3 L237.5,209.8 L238.0,211.0 L238.5,211.4 L239.0,211.1 L239.5,211.5 L240.0,210.9 L240.5,211.2 L241.0,211.5 L241.5,211.0 L242.0,211.1 L242.5,211.6 L243.0,211.5 L243.5,211.1 L244.0,211.7 L244.5,211.5 L245.0,212.0 L245.5,211.5 L246.0,211.4 L246.5,211.5 L247.0,211.4 L247.5,211.2 L248.0,211.2 L248.5,211.7 L249.0,211.6 L249.5,211.8 L250.0,210.5 L250.5,211.0 L251.0,211.0 L251.5,211.2 L252.0,210.8 L252.5,210.8 L253.0,211.2 L253.5,210.8 L254.0,210.0 L254.5,210.9 L255.0,210.5 L255.5,209.5 L256.0,209.9 L256.5,208.9 L257.0,209.4 L257.5,208.6 L258.0,208.1 L258.5,208.1 L259.0,207.7 L259.5,208.0 L260.0,207.9 L260.5,207.8 L261.0,207.6 L261.5,206.5 L262.0,208.4 L262.5,207.9 L263.0,209.2 L263.5,209.9 L264.0,210.0 L264.5,210.1 L265.0,210.5 L265.5,210.8 L266.0,210.8 L266.5,210.9 L267.0,210.8 L267.5,211.8 L268.0,211.4 L268.5,211.9 L269.0,211.4 L269.5,211.6 L270.0,211.6 L270.5,212.0 L271.0,212.2 L271.5,212.0 L272.0,211.7 L272.5,211.7 L273.0,212.7 L273.5,212.0 L274.0,212.0 L274.5,212.8 L275.0,212.6 L275.5,212.4 L276.0,212.0 L276.5,213.2 L277.0,212.4 L277.5,212.4 L278.0,212.1 L278.5,211.5 L279.0,211.5 L279.5,212.2 L280.0,212.2 L280.5,211.8 L281.0,211.4 L281.5,211.2 L282.0,211.6 L282.5,211.0 L283.0,211.9 L283.5,211.9 L284.0,212.6 L284.5,211.6 L285.0,210.9 L285.5,210.7 L286.0,209.5 L286.5,210.6 L287.0,210.7 L287.5,211.1 L288.0,210.8 L288.5,210.7 L289.0,210.4 L289.5,210.4 L290.0,210.6 L290.5,209.4 L291.0,209.4 L291.5,208.9 L292.0,209.9 L292.5,209.6 L293.0,209.1 L293.5,208.1 L294.0,208.4 L294.5,208.0 L295.0,207.8 L295.5,207.4 L296.0,207.3 L296.5,206.5 L297.0,206.5 L297.5,205.7 L298.0,204.8 L298.5,204.2 L299.0,203.4 L299.5,203.3 L300.0,202.2 L300.5,201.8 L301.0,200.9 L301.5,199.9 L302.0,200.3 L302.5,198.9 L303.0,199.0 L303.5,198.2 L304.0,196.7 L304.5,196.4 L305.0,196.0 L305.5,195.3 L306.0,194.8 L306.5,195.3 L307.0,194.6 L307.5,194.9 L308.0,194.6 L308.5,195.1 L309.0,194.9 L309.5,195.5 L310.0,196.1 L310.5,196.2 L311.0,196.4 L311.5,196.5 L312.0,197.4 L312.5,197.8 L313.0,197.9 L313.5,197.9 L314.0,198.7 L314.5,199.8 L315.0,198.9 L315.5,199.4 L316.0,199.6 L316.5,198.6 L317.0,200.0 L317.5,199.9 L318.0,201.0 L318.5,200.6 L319.0,200.6 L319.5,201.1 L320.0,201.5 L320.5,201.5 L321.0,202.0 L321.5,201.8 L322.0,202.6 L322.5,203.4 L323.0,204.2 L323.5,204.1 L324.0,204.3 L324.5,205.1 L325.0,205.4 L325.5,206.1 L326.0,206.2 L326.5,206.1 L327.0,206.7 L327.5,207.0 L328.0,207.5 L328.5,207.8 L329.0,207.8 L329.5,207.6 L330.0,208.6 L330.5,208.4 L331.0,209.6 L331.5,209.9 L332.0,209.5 L332.5,210.8 L333.0,211.2 L333.5,211.2 L334.0,212.2 L334.5,212.6 L335.0,211.7 L335.5,212.9 L336.0,213.0 L336.5,213.3 L337.0,213.8 L337.5,213.4 L338.0,213.7 L338.5,213.9 L339.0,214.2 L339.5,214.7 L340.0,214.3 L340.5,214.7 L341.0,215.5 L341.5,215.4 L342.0,215.8 L342.5,215.0 L343.0,215.7 L343.5,215.9 L344.0,216.3 L344.5,216.2 L345.0,217.0 L345.5,216.8 L346.0,216.9 L346.5,217.1 L347.0,217.5 L347.5,217.2 L348.0,218.0 L348.5,217.8 L349.0,217.8 L349.5,217.9 L350.0,218.2 L350.5,218.5 L351.0,218.6 L351.5,218.5 L352.0,218.8 L352.5,218.5 L353.0,219.1 L353.5,218.6 L354.0,217.8 L354.5,219.3 L355.0,218.9 L355.5,218.4 L356.0,218.8 L356.5,218.5 L357.0,219.8 L357.5,219.2 L358.0,218.3 L358.5,219.2 L359.0,218.9 L359.5,219.9 L360.0,218.6 L360.5,218.2 L361.0,219.2 L361.5,219.0 L362.0,219.0 L362.5,218.3 L363.0,219.4 L363.5,219.9 L364.0,218.5 L364.5,219.8 L365.0,219.1 L365.5,220.3 L366.0,219.5 L366.5,219.3 L367.0,219.8 L367.5,219.6 L368.0,219.1 L368.5,219.7 L369.0,219.2 L369.5,218.7 L370.0,220.3 L370.5,219.3 L371.0,219.2 L371.5,219.6 L372.0,218.8 L372.5,218.9 L373.0,219.3 L373.5,219.3 L374.0,219.6 L374.5,220.0 L375.0,219.3 L375.5,219.8 L376.0,219.8 L376.5,219.1 L377.0,219.7 L377.5,219.2 L378.0,220.0 L378.5,219.8 L379.0,219.6 L379.5,219.0 L380.0,219.6 L380.5,219.3 L381.0,219.9 L381.5,219.5 L382.0,219.3 L382.5,220.0 L383.0,219.9 L383.5,219.3 L384.0,220.0 L384.5,219.4 L385.0,219.3 L385.5,219.5 L386.0,219.0 L386.5,219.1 L387.0,219.2 L387.5,219.8 L388.0,219.7 L388.5,218.9 L389.0,219.6 L389.5,218.8 L390.0,218.9 L390.5,219.0 L391.0,218.7 L391.5,219.5 L392.0,218.5 L392.5,217.8 L393.0,218.7 L393.5,217.9 L394.0,217.8 L394.5,216.6 L395.0,218.2 L395.5,218.0 L396.0,217.9 L396.5,217.8 L397.0,218.0 L397.5,217.2 L398.0,217.5 L398.5,216.6 L399.0,216.7 L399.5,217.1 L400.0,216.7 L400.5,215.8 L401.0,216.4 L401.5,216.0 L402.0,215.5 L402.5,215.8 L403.0,215.3 L403.5,214.6 L404.0,214.5 L404.5,215.5 L405.0,213.9 L405.5,214.3 L406.0,214.1 L406.5,213.7 L407.0,212.5 L407.5,212.4 L408.0,212.0 L408.5,211.8 L409.0,210.6 L409.5,209.9 L410.0,210.2 L410.5,209.7 L411.0,208.8 L411.5,207.8 L412.0,207.5 L412.5,206.7 L413.0,206.4 L413.5,204.9 L414.0,204.8 L414.5,204.1 L415.0,203.1 L415.5,203.1 L416.0,202.5 L416.5,201.8 L417.0,201.6 L417.5,200.4 L418.0,200.5 L418.5,200.5 L419.0,200.2 L419.5,200.4 L420.0,199.2 L420.5,199.0 L421.0,199.7 L421.5,199.9 L422.0,200.7 L422.5,200.3 L423.0,200.0 L423.5,201.0 L424.0,200.6 L424.5,200.7 L425.0,202.9 L425.5,202.5 L426.0,203.2 L426.5,203.7 L427.0,204.8 L427.5,204.7 L428.0,205.7 L428.5,205.5 L429.0,206.0 L429.5,207.8 L430.0,208.3 L430.5,208.4 L431.0,208.7 L431.5,209.2 L432.0,209.2 L432.5,210.6 L433.0,210.6 L433.5,210.9 L434.0,211.2 L434.5,211.8 L435.0,211.9 L435.5,212.3 L436.0,211.8 L436.5,212.8 L437.0,213.7 L437.5,212.8 L438.0,213.2 L438.5,213.9 L439.0,214.1 L439.5,214.1 L440.0,213.3 L440.5,214.3 L441.0,213.7 L441.5,214.0 L442.0,214.7 L442.5,214.4 L443.0,215.0 L443.5,216.0 L444.0,215.1 L444.5,215.2 L445.0,214.6 L445.5,214.7 L446.0,214.6 L446.5,214.9 L447.0,214.8 L447.5,215.1 L448.0,215.3 L448.5,215.1 L449.0,215.0 L449.5,215.1 L450.0,216.0 L450.5,215.9 L451.0,216.4 L451.5,216.5 L452.0,216.0 L452.5,216.6 L453.0,215.8 L453.5,217.4 L454.0,217.1 L454.5,216.6 L455.0,216.3 L455.5,217.0 L456.0,216.2 L456.5,216.7 L457.0,217.5 L457.5,217.3 L458.0,217.1 L458.5,217.8 L459.0,217.1 L459.5,217.7 L460.0,217.5 L460.5,217.5 L461.0,218.1 L461.5,217.6 L462.0,218.9 L462.5,217.9 L463.0,219.1 L463.5,217.9 L464.0,218.7 L464.5,218.0 L465.0,218.1 L465.5,218.8 L466.0,219.1 L466.5,218.4 L467.0,219.5 L467.5,218.7 L468.0,219.2 L468.5,219.4 L469.0,219.6 L469.5,218.6 L470.0,220.1 L470.5,219.8 L471.0,219.4 L471.5,219.3 L472.0,219.0 L472.5,219.3 L473.0,220.1 L473.5,219.8 L474.0,219.6 L474.5,219.9 L475.0,220.9 L475.5,220.1 L476.0,220.1 L476.5,221.0 L477.0,220.7 L477.5,220.6 L478.0,220.4 L478.5,220.0 L479.0,220.3 L479.5,220.6 L480.0,220.8 L480.5,221.1 L481.0,221.3 L481.5,221.2 L482.0,221.3 L482.5,220.8 L483.0,220.4 L483.5,221.2 L484.0,221.0 L484.5,221.2 L485.0,221.4 L485.5,221.1 L486.0,221.2 L486.5,221.7 L487.0,221.8 L487.5,221.6 L488.0,222.1 L488.5,221.9 L489.0,221.6 L489.5,222.1 L490.0,222.9 L490.5,221.9 L491.0,222.7 L491.5,222.8 L492.0,222.9 L492.5,222.0 L493.0,223.2 L493.5,222.5 L494.0,222.3 L494.5,222.4 L495.0,222.8 L495.5,222.6 L496.0,222.5 L496.5,223.2 L497.0,222.4 L497.5,222.3 L498.0,223.1 L498.5,223.1 L499.0,223.3 L499.5,222.4 L500.0,223.3 L500.5,223.1 L501.0,223.7 L501.5,222.5 L502.0,223.1 L502.5,222.9 L503.0,222.4 L503.5,222.8 L504.0,223.6 L504.5,223.0 L505.0,222.9 L505.5,223.6 L506.0,223.7 L506.5,223.7 L507.0,223.0 L507.5,223.3 L508.0,223.8 L508.5,223.1 L509.0,223.1 L509.5,223.8 L510.0,224.1 L510.5,223.0 L511.0,222.4 L511.5,222.9 L512.0,223.2 L512.5,223.5 L513.0,223.9 L513.5,223.6 L514.0,223.4 L514.5,223.8 L515.0,223.3 L515.5,223.7 L516.0,223.5 L516.5,224.9 L517.0,224.1 L517.5,223.4 L518.0,223.4 L518.5,223.6 L519.0,223.1 L519.5,223.5 L520.0,223.5 L520.5,224.2 L521.0,223.7 L521.5,223.5 L522.0,223.3 L522.5,223.4 L523.0,223.9"/>
<path stroke="#f0f" d="M51.0,115.9 L51.5,116.6 L52.0,116.0 L52.5,117.1 L53.0,117.1 L53.5,117.5 L54.0,117.2 L54.5,118.2 L55.0,120.1 L55.5,121.6 L56.0,122.3 L56.5,123.6 L57.0,123.8 L57.5,124.4 L58.0,124.8 L58.5,125.9 L59.0,126.1 L59.5,126.3 L60.0,126.7 L60.5,127.4 L61.0,127.6 L61.5,127.3 L62.0,128.6 L62.5,128.1 L63.0,128.0 L63.5,128.6 L64.0,128.3 L64.5,127.7 L65.0,127.8 L65.5,126.9 L66.0,126.9 L66.5,126.0 L67.0,127.2 L67.5,125.7 L68.0,126.6 L68.5,125.8 L69.0,125.6 L69.5,125.8 L70.0,125.9 L70.5,126.0 L71.0,126.4 L71.5,125.8 L72.0,125.9 L72.5,125.3 L73.0,125.7 L73.5,125.4 L74.0,125.1 L74.5,125.1 L75.0,125.0 L75.5,124.8 L76.0,124.4 L76.5,123.4 L77.0,122.6 L77.5,122.4 L78.0,120.4 L78.5,119.9 L79.0,119.8 L79.5,116.7 L80.0,116.0 L80.5,115.0 L81.0,112.4 L81.5,112.1 L82.0,107.7 L82.5,107.5 L83.0,106.2 L83.5,104.8 L84.0,103.6 L84.5,103.7 L85.0,103.0 L85.5,103.8 L86.0,104.2 L86.5,106.2 L87.0,108.3 L87.5,109.1 L88.0,111.1 L88.5,113.0 L89.0,114.0 L89.5,116.6 L90.0,117.8 L90.5,118.4 L91.0,120.3 L91.5,121.2 L92.0,122.4 L92.5,123.9 L93.0,124.6 L93.5,126.2 L94.0,126.4 L94.5,127.9 L95.0,128.2 L95.5,129.3 L96.0,129.4 L96.5,130.1 L97.0,130.6 L97.5,132.1 L98.0,133.0 L98.5,134.3 L99.0,134.5 L99.5,134.5 L100.0,134.7 L100.5,135.3 L101.0,135.3 L101.5,136.2 L102.0,136.2 L102.5,135.6 L103.0,135.9 L103.5,136.9 L104.0,136.6 L104.5,136.5 L105.0,137.2 L105.5,136.7 L106.0,136.8 L106.5,136.8 L107.0,136.2 L107.5,137.4 L108.0,136.6 L108.5,136.9 L109.0,136.9 L109.5,137.5 L110.0,137.2 L110.5,137.3 L111.0,136.6 L111.5,137.3 L112.0,136.8 L112.5,137.6 L113.0,137.6 L113.5,137.5 L114.0,138.4 L114.5,137.8 L115.0,137.8 L115.5,137.7 L116.0,137.6 L116.5,138.1 L117.0,138.2 L117.5,137.2 L118.0,138.2 L118.5,138.0 L119.0,138.2 L119.5,138.0 L120.0,137.4 L120.5,137.4 L121.0,138.7 L121.5,138.0 L122.0,137.4 L122.5,138.1 L123.0,137.8 L123.5,137.2 L124.0,137.0 L124.5,137.3 L125.0,138.1 L125.5,138.0 L126.0,137.9 L126.5,138.1 L127.0,138.2 L127.5,137.1 L128.0,137.8 L128.5,137.6 L129.0,137.4 L129.5,137.7 L130.0,137.9 L130.5,137.8 L131.0,137.3 L131.5,137.7 L132.0,138.7 L132.5,137.4 L133.0,137.1 L133.5,137.9 L134.0,138.0 L134.5,137.9 L135.0,137.2 L135.5,138.1 L136.0,137.3 L136.5,137.2 L137.0,137.3 L137.5,137.5 L138.0,137.8 L138.5,137.7 L139.0,137.3 L139.5,137.6 L140.0,137.1 L140.5,137.3 L141.0,136.1 L141.5,135.9 L142.0,136.7 L142.5,135.5 L143.0,135.8 L143.5,135.7 L144.0,135.3 L144.5,135.0 L145.0,135.6 L145.5,133.7 L146.0,134.7 L146.5,134.9 L147.0,133.5 L147.5,133.0 L148.0,132.9 L148.5,132.9 L149.0,131.2 L149.5,131.3 L150.0,130.9 L150.5,131.0 L151.0,130.5 L151.5,130.5 L152.0,129.7 L152.5,129.7 L153.0,129.2 L153.5,129.0 L154.0,129.1 L154.5,129.0 L155.0,128.5 L155.5,129.6 L156.0,128.9 L156.5,128.4 L157.0,129.4 L157.5,128.6 L158.0,129.2 L158.5,128.9 L159.0,129.1 L159.5,129.0 L160.0,128.7 L160.5,129.0 L161.0,129.8 L161.5,128.0 L162.0,129.0 L162.5,129.1 L163.0,128.5 L163.5,128.3 L164.0,129.8 L164.5,128.8 L165.0,129.8 L165.5,129.1 L166.0,128.9 L166.5,129.1 L167.0,129.1 L167.5,129.3 L168.0,129.0 L168.5,128.9 L169.0,128.9 L169.5,129.3 L170.0,129.1 L170.5,128.3 L171.0,128.4 L171.5,128.7 L172.0,128.1 L172.5,127.9 L173.0,127.2 L173.5,127.0 L174.0,126.8 L174.5,126.5 L175.0,125.6 L175.5,125.8 L176.0,124.2 L176.5,124.8 L177.0,123.3 L177.5,122.6 L178.0,121.9 L178.5,120.7 L179.0,121.6 L179.5,121.5 L180.0,122.1 L180.5,120.6 L181.0,121.8 L181.5,120.9 L182.0,121.3 L182.5,120.1 L183.0,121.4 L183.5,121.4 L184.0,122.1 L184.5,122.1 L185.0,121.9 L185.5,123.1 L186.0,123.3 L186.5,123.7 L187.0,124.3 L187.5,124.8 L188.0,124.8 L188.5,124.8 L189.0,125.2 L189.5,126.8 L190.0,127.1 L190.5,127.3 L191.0,127.6 L191.5,128.3 L192.0,128.7 L192.5,128.9 L193.0,128.9 L193.5,130.2 L194.0,129.5 L194.5,129.3 L195.0,129.1 L195.5,129.4 L196.0,130.1 L196.5,130.1 L197.0,129.7 L197.5,129.7 L198.0,129.4 L198.5,128.8 L199.0,129.6 L199.5,128.9 L200.0,129.5 L200.5,127.9 L201.0,127.9 L201.5,128.0 L202.0,127.2 L202.5,126.4 L203.0,126.2 L203.5,126.2 L204.0,125.9 L204.5,125.2 L205.0,125.0 L205.5,124.4 L206.0,123.4 L206.5,122.6 L207.0,121.9 L207.5,121.6 L208.0,121.1 L208.5,120.0 L209.0,119.4 L209.5,118.3 L210.0,117.2 L210.5,116.7 L211.0,117.0 L211.5,116.6 L212.0,117.0 L212.5,116.4 L213.0,116.9 L213.5,117.3 L214.0,117.3 L214.5,116.7 L215.0,115.1 L215.5,112.2 L216.0,110.8 L216.5,111.4 L217.0,111.5 L217.5,110.9 L218.0,114.5 L218.5,116.6 L219.0,118.3 L219.5,119.6 L220.0,120.5 L220.5,121.8 L221.0,122.4 L221.5,123.7 L222.0,123.8 L222.5,124.2 L223.0,124.3 L223.5,124.2 L224.0,125.1 L224.5,125.1 L225.0,126.1 L225.5,126.0 L226.0,127.0 L226.5,126.9 L227.0,127.2 L227.5,127.3 L228.0,127.6 L228.5,128.1 L229.0,128.5 L229.5,128.1 L230.0,128.9 L230.5,130.1 L231.0,129.2 L231.5,129.4 L232.0,129.4 L232.5,129.3 L233.0,130.5 L233.5,130.2 L234.0,130.5 L234.5,131.2 L235.0,131.6 L235.5,130.3 L236.0,131.3 L236.5,131.3 L237.0,131.3 L237.5,131.5 L238.0,131.5 L238.5,132.4 L239.0,132.2 L239.5,132.2 L240.0,132.8 L240.5,132.9 L241.0,132.9 L241.5,133.0 L242.0,133.8 L242.5,133.4 L243.0,133.3 L243.5,133.1 L244.0,133.4 L244.5,133.2 L245.0,133.7 L245.5,133.8 L246.0,132.8 L246.5,133.7 L247.0,133.9 L247.5,133.7 L248.0,133.2 L248.5,134.1 L249.0,133.2 L249.5,133.0 L250.0,133.0 L250.5,133.4 L251.0,133.7 L251.5,133.7 L252.0,133.3 L252.5,132.5 L253.0,132.6 L253.5,132.2 L254.0,132.2 L254.5,131.2 L255.0,131.7 L255.5,131.5 L256.0,130.8 L256.5,130.7 L257.0,129.8 L257.5,129.3 L258.0,129.4 L258.5,130.0 L259.0,129.9 L259.5,129.2 L260.0,129.9 L260.5,129.4 L261.0,130.2 L261.5,129.9 L262.0,129.7 L262.5,130.4 L263.0,130.0 L263.5,130.1 L264.0,130.1 L264.5,131.1 L265.0,131.2 L265.5,131.4 L266.0,131.5 L266.5,132.5 L267.0,131.9 L267.5,131.9 L268.0,132.9 L268.5,133.1 L269.0,132.8 L269.5,132.0 L270.0,132.5 L270.5,133.0 L271.0,132.8 L271.5,133.5 L272.0,132.3 L272.5,133.2 L273.0,132.7 L273.5,133.5 L274.0,132.9 L274.5,133.4 L275.0,132.8 L275.5,132.5 L276.0,132.6 L276.5,132.8 L277.0,132.7 L277.5,133.6 L278.0,133.7 L278.5,133.3 L279.0,132.7 L279.5,133.1 L280.0,132.9 L280.5,133.8 L281.0,133.3 L281.5,133.4 L282.0,133.0 L282.5,132.4 L283.0,132.9 L283.5,132.7 L284.0,133.2 L284.5,133.0 L285.0,132.6 L285.5,132.6 L286.0,133.3 L286.5,132.1 L287.0,132.0 L287.5,132.2 L288.0,131.8 L288.5,131.8 L289.0,132.0 L289.5,132.4 L290.0,130.8 L290.5,131.3 L291.0,131.2 L291.5,131.0 L292.0,130.8 L292.5,130.5 L293.0,130.9 L293.5,130.1 L294.0,130.0 L294.5,129.8 L295.0,129.6 L295.5,129.1 L296.0,129.3 L296.5,128.4 L297.0,128.1 L297.5,127.5 L298.0,126.5 L298.5,126.0 L299.0,125.4 L299.5,125.3 L300.0,124.3 L300.5,123.6 L301.0,123.6 L301.5,123.2 L302.0,121.7 L302.5,122.6 L303.0,121.2 L303.5,120.5 L304.0,120.3 L304.5,119.3 L305.0,118.4 L305.5,119.0 L306.0,117.1 L306.5,117.1 L307.0,117.2 L307.5,116.2 L308.0,116.6 L308.5,116.8 L309.0,117.8 L309.5,116.7 L310.0,117.3 L310.5,117.9 L311.0,118.1 L311.5,117.9 L312.0,119.0 L312.5,119.3 L313.0,119.8 L313.5,120.4 L314.0,120.7 L314.5,120.7 L315.0,120.9 L315.5,120.5 L316.0,121.1 L316.5,121.4 L317.0,121.3 L317.5,121.7 L318.0,121.5 L318.5,122.6 L319.0,123.1 L319.5,122.2 L320.0,122.7 L320.5,122.7 L321.0,123.5 L321.5,123.5 L322.0,123.6 L322.5,123.8 L323.0,124.4 L323.5,124.3 L324.0,125.5 L324.5,125.5 L325.0,126.6 L325.5,127.0 L326.0,128.0 L326.5,128.2 L327.0,129.3 L327.5,129.1 L328.0,130.4 L328.5,130.6 L329.0,131.4 L329.5,131.9 L330.0,132.8 L330.5,132.1 L331.0,133.5 L331.5,133.2 L332.0,134.7 L332.5,133.8 L333.0,134.7 L333.5,134.8 L334.0,136.6 L334.5,135.7 L335.0,136.7 L335.5,136.8 L336.0,136.6 L336.5,137.6 L337.0,138.4 L337.5,138.4 L338.0,139.2 L338.5,139.0 L339.0,139.5 L339.5,139.7 L340.0,140.3 L340.5,141.3 L341.0,141.0 L341.5,141.2 L342.0,141.2 L342.5,141.5 L343.0,142.8 L343.5,142.0 L344.0,142.5 L344.5,143.2 L345.0,143.4 L345.5,144.7 L346.0,143.2 L346.5,144.7 L347.0,145.2 L347.5,144.7 L348.0,145.2 L348.5,146.0 L349.0,146.7 L349.5,145.9 L350.0,145.8 L350.5,147.1 L351.0,147.5 L351.5,146.9 L352.0,146.2 L352.5,147.8 L353.0,147.2 L353.5,147.8 L354.0,147.4 L354.5,147.3 L355.0,147.4 L355.5,148.2 L356.0,148.3 L356.5,146.8 L357.0,147.4 L357.5,148.6 L358.0,147.7 L358.5,147.3 L359.0,147.9 L359.5,147.9 L360.0,147.9 L360.5,147.8 L361.0,147.9 L361.5,147.8 L362.0,148.1 L362.5,147.7 L363.0,147.9 L363.5,147.9 L364.0,148.5 L364.5,148.1 L365.0,147.9 L365.5,148.2 L366.0,148.2 L366.5,148.4 L367.0,148.2 L367.5,148.7 L368.0,148.5 L368.5,147.9 L369.0,147.8 L369.5,148.3 L370.0,148.2 L370.5,147.9 L371.0,147.3 L371.5,147.1 L372.0,148.1 L372.5,148.2 L373.0,148.2 L373.5,147.3 L374.0,148.3 L374.5,147.6 L375.0,148.0 L375.5,148.0 L376.0,147.5 L376.5,147.6 L377.0,146.9 L377.5,147.4 L378.0,147.0 L378.5,147.9 L379.0,147.8 L379.5,148.1 L380.0,147.9 L380.5,147.4 L381.0,147.8 L381.5,147.5 L382.0,147.9 L382.5,147.8 L383.0,147.2 L383.5,147.6 L384.0,147.6 L384.5,147.4 L385.0,147.9 L385.5,148.2 L386.0,147.3 L386.5,147.3 L387.0,146.5 L387.5,147.4 L388.0,147.2 L388.5,146.5 L389.0,147.5 L389.5,147.6 L390.0,147.0 L390.5,147.1 L391.0,146.8 L391.5,147.5 L392.0,146.6 L392.5,147.0 L393.0,147.9 L393.5,147.1 L394.0,147.1 L394.5,146.8 L395.0,146.3 L395.5,146.6 L396.0,146.7 L396.5,145.9 L397.0,146.4 L397.5,146.6 L398.0,146.4 L398.5,145.1 L399.0,145.2 L399.5,144.8 L400.0,145.8 L400.5,145.4 L401.0,145.3 L401.5,144.5 L402.0,144.2 L402.5,144.5 L403.0,144.4 L403.5,143.7 L404.0,143.9 L404.5,143.9 L405.0,143.5 L405.5,142.7 L406.0,141.9 L406.5,142.3 L407.0,142.1 L407.5,141.5 L408.0,141.0 L408.5,140.5 L409.0,140.6 L409.5,139.8 L410.0,139.4 L410.5,138.3 L411.0,137.9 L411.5,137.5 L412.0,136.3 L412.5,135.4 L413.0,135.0 L413.5,134.9 L414.0,133.8 L414.5,133.7 L415.0,132.4 L415.5,131.8 L416.0,130.8 L416.5,130.7 L417.0,131.0 L417.5,130.1 L418.0,129.9 L418.5,129.6 L419.0,129.0 L419.5,128.7 L420.0,128.5 L420.5,128.6 L421.0,128.4 L421.5,128.4 L422.0,128.4 L422.5,128.2 L423.0,128.6 L423.5,128.6 L424.0,129.7 L424.5,128.7 L425.0,129.9 L425.5,131.4 L426.0,130.7 L426.5,130.9 L427.0,131.8 L427.5,132.8 L428.0,132.8 L428.5,133.6 L429.0,134.0 L429.5,134.3 L430.0,136.3 L430.5,135.5 L431.0,135.8 L431.5,136.4 L432.0,137.3 L432.5,137.8 L433.0,138.5 L433.5,138.7 L434.0,138.5 L434.5,139.7 L435.0,139.7 L435.5,140.0 L436.0,139.7 L436.5,140.4 L437.0,140.5 L437.5,141.1 L438.0,140.7 L438.5,141.5 L439.0,141.7 L439.5,141.4 L440.0,141.7 L440.5,141.8 L441.0,142.7 L441.5,141.4 L442.0,142.4 L442.5,142.0 L443.0,142.7 L443.5,143.3 L444.0,142.8 L444.5,143.3 L445.0,143.0 L445.5,144.2 L446.0,143.9 L446.5,144.1 L447.0,143.2 L447.5,143.4 L448.0,144.4 L448.5,144.0 L449.0,144.0 L449.5,144.4 L450.0,143.8 L450.5,144.7 L451.0,144.5 L451.5,144.8 L452.0,144.4 L452.5,145.0 L453.0,144.6 L453.5,145.4 L454.0,145.5 L454.5,145.5 L455.0,145.4 L455.5,145.6 L456.0,144.3 L456.5,145.8 L457.0,145.4 L457.5,145.7 L458.0,145.6 L458.5,145.2 L459.0,145.6 L459.5,146.2 L460.0,146.6 L460.5,145.8 L461.0,145.8 L461.5,146.9 L462.0,146.0 L462.5,147.3 L463.0,146.5 L463.5,146.2 L464.0,147.0 L464.5,147.4 L465.0,146.1 L465.5,147.5 L466.0,146.8 L466.5,147.6 L467.0,146.9 L467.5,146.4 L468.0,147.4 L468.5,147.6 L469.0,148.1 L469.5,148.1 L470.0,147.7 L470.5,147.4 L471.0,147.3 L471.5,147.4 L472.0,147.3 L472.5,147.6 L473.0,146.7 L473.5,147.9 L474.0,147.9 L474.5,149.0 L475.0,148.3 L475.5,147.8 L476.0,148.3 L476.5,147.6 L477.0,148.0 L477.5,147.5 L478.0,148.9 L478.5,148.6 L479.0,147.9 L479.5,148.5 L480.0,148.9 L480.5,148.8 L481.0,148.8 L481.5,148.3 L482.0,148.5 L482.5,148.8 L483.0,149.2 L483.5,148.6 L484.0,148.5 L484.5,149.5 L485.0,148.7 L485.5,149.5 L486.0,149.2 L486.5,149.6 L487.0,150.0 L487.5,149.6 L488.0,149.6 L488.5,149.0 L489.0,149.1 L489.5,149.7 L490.0,150.1 L490.5,150.1 L491.0,150.5 L491.5,149.7 L492.0,149.7 L492.5,150.1 L493.0,149.7 L493.5,149.7 L494.0,149.3 L494.5,150.2 L495.0,149.4 L495.5,150.1 L496.0,149.3 L496.5,150.4 L497.0,149.5 L497.5,150.3 L498.0,149.3 L498.5,149.8 L499.0,150.6 L499.5,149.7 L500.0,150.1 L500.5,149.9 L501.0,149.2 L501.5,150.3 L502.0,150.4 L502.5,149.8 L503.0,150.5 L503.5,150.0 L504.0,149.9 L504.5,150.4 L505.0,150.1 L505.5,151.4 L506.0,149.8 L506.5,150.8 L507.0,150.9 L507.5,149.7 L508.0,149.8 L508.5,150.8 L509.0,150.4 L509.5,150.8 L510.0,151.1 L510.5,150.5 L511.0,150.2 L511.5,149.5 L512.0,150.8 L512.5,150.3 L513.0,150.9 L513.5,150.9 L514.0,150.2 L514.5,151.5 L515.0,151.3 L515.5,151.2 L516.0,150.3 L516.5,150.7 L517.0,150.6 L517.5,150.7 L518.0,150.4 L518.5,151.1 L519.0,151.0 L519.5,151.1 L520.0,150.7 L520.5,151.5 L521.0,151.0 L521.5,149.8 L522.0,150.7 L522.5,151.0 L523.0,151.4"/>
<path stroke="#008000" d="M51.0,46.9 L51.5,47.2 L52.0,47.3 L52.5,48.2 L53.0,48.1 L53.5,48.4 L54.0,48.8 L54.5,49.8 L55.0,49.8 L55.5,49.8 L56.0,51.4 L56.5,51.6 L57.0,52.8 L57.5,53.5 L58.0,54.5 L58.5,55.0 L59.0,54.8 L59.5,55.3 L60.0,55.2 L60.5,56.8 L61.0,56.5 L61.5,57.2 L62.0,56.7 L62.5,56.1 L63.0,57.6 L63.5,57.0 L64.0,57.0 L64.5,56.9 L65.0,57.1 L65.5,57.0 L66.0,56.0 L66.5,57.0 L67.0,56.2 L67.5,56.1 L68.0,56.9 L68.5,56.5 L69.0,55.9 L69.5,55.1 L70.0,55.9 L70.5,55.9 L71.0,55.6 L71.5,54.9 L72.0,55.0 L72.5,54.7 L73.0,55.2 L73.5,55.2 L74.0,55.1 L74.5,54.2 L75.0,54.3 L75.5,54.1 L76.0,53.3 L76.5,53.0 L77.0,53.4 L77.5,52.0 L78.0,51.6 L78.5,50.1 L79.0,49.1 L79.5,47.1 L80.0,46.5 L80.5,45.7 L81.0,44.7 L81.5,42.9 L82.0,41.2 L82.5,39.6 L83.0,38.2 L83.5,37.3 L84.0,37.0 L84.5,36.5 L85.0,37.7 L85.5,37.9 L86.0,39.6 L86.5,41.6 L87.0,42.7 L87.5,44.1 L88.0,46.3 L88.5,46.9 L89.0,48.2 L89.5,49.8 L90.0,50.9 L90.5,51.3 L91.0,53.1 L91.5,53.7 L92.0,54.4 L92.5,55.5 L93.0,55.6 L93.5,56.6 L94.0,57.5 L94.5,58.4 L95.0,58.6 L95.5,59.3 L96.0,60.2 L96.5,60.9 L97.0,61.0 L97.5,61.5 L98.0,61.1 L98.5,61.5 L99.0,62.0 L99.5,61.9 L100.0,62.1 L100.5,63.1 L101.0,62.5 L101.5,62.3 L102.0,63.0 L102.5,63.7 L103.0,63.1 L103.5,63.6 L104.0,63.0 L104.5,63.0 L105.0,63.0 L105.5,63.3 L106.0,64.2 L106.5,63.0 L107.0,64.2 L107.5,63.1 L108.0,63.5 L108.5,64.0 L109.0,63.9 L109.5,63.8 L110.0,63.0 L110.5,63.9 L111.0,63.3 L111.5,64.9 L112.0,63.7 L112.5,63.9 L113.0,63.4 L113.5,63.7 L114.0,63.4 L114.5,64.4 L115.0,63.9 L115.5,64.2 L116.0,63.7 L116.5,63.8 L117.0,64.6 L117.5,63.7 L118.0,63.4 L118.5,64.3 L119.0,63.7 L119.5,64.0 L120.0,64.6 L120.5,63.9 L121.0,64.6 L121.5,64.0 L122.0,64.9 L122.5,64.8 L123.0,64.1 L123.5,64.2 L124.0,64.0 L124.5,64.4 L125.0,64.8 L125.5,63.8 L126.0,64.8 L126.5,63.8 L127.0,64.0 L127.5,63.6 L128.0,65.3 L128.5,64.4 L129.0,64.5 L129.5,64.1 L130.0,64.8 L130.5,63.5 L131.0,64.4 L131.5,65.3 L132.0,64.1 L132.5,64.3 L133.0,64.5 L133.5,63.8 L134.0,64.1 L134.5,64.5 L135.0,64.1 L135.5,64.1 L136.0,63.7 L136.5,63.9 L137.0,63.7 L137.5,64.2 L138.0,63.9 L138.5,63.4 L139.0,62.4 L139.5,63.6 L140.0,63.5 L140.5,62.7 L141.0,62.2 L141.5,62.4 L142.0,63.1 L142.5,62.0 L143.0,62.0 L143.5,62.0 L144.0,62.1 L144.5,61.3 L145.0,60.9 L145.5,60.3 L146.0,60.9 L146.5,60.3 L147.0,59.5 L147.5,58.6 L148.0,58.6 L148.5,58.9 L149.0,58.1 L149.5,58.6 L150.0,58.3 L150.5,58.1 L151.0,58.2 L151.5,58.0 L152.0,57.3 L152.5,57.4 L153.0,58.5 L153.5,56.9 L154.0,57.1 L154.5,57.7 L155.0,57.1 L155.5,56.8 L156.0,56.5 L156.5,57.3 L157.0,57.4 L157.5,57.6 L158.0,57.0 L158.5,57.5 L159.0,56.6 L159.5,57.1 L160.0,56.8 L160.5,57.2 L161.0,57.4 L161.5,57.6 L162.0,56.8 L162.5,57.8 L163.0,57.0 L163.5,56.8 L164.0,57.2 L164.5,56.7 L165.0,57.3 L165.5,57.4 L166.0,57.2 L166.5,57.5 L167.0,57.1 L167.5,57.3 L168.0,56.6 L168.5,57.2 L169.0,56.8 L169.5,57.0 L170.0,57.1 L170.5,57.2 L171.0,56.3 L171.5,56.3 L172.0,56.7 L172.5,56.7 L173.0,56.3 L173.5,56.0 L174.0,55.8 L174.5,55.0 L175.0,54.4 L175.5,53.5 L176.0,53.1 L176.5,52.8 L177.0,52.8 L177.5,52.4 L178.0,52.0 L178.5,51.7 L179.0,51.8 L179.5,51.4 L180.0,51.2 L180.5,51.1 L181.0,50.6 L181.5,50.4 L182.0,51.0 L182.5,51.1 L183.0,51.0 L183.5,51.1 L184.0,52.4 L184.5,51.4 L185.0,51.9 L185.5,52.4 L186.0,52.1 L186.5,53.0 L187.0,54.2 L187.5,54.3 L188.0,54.6 L188.5,55.0 L189.0,55.2 L189.5,55.9 L190.0,55.7 L190.5,55.9 L191.0,56.4 L191.5,57.1 L192.0,57.0 L192.5,57.4 L193.0,56.3 L193.5,57.8 L194.0,58.3 L194.5,58.0 L195.0,57.4 L195.5,57.2 L196.0,57.7 L196.5,57.2 L197.0,57.9 L197.5,57.4 L198.0,57.9 L198.5,58.0 L199.0,56.5 L199.5,57.4 L200.0,56.8 L200.5,56.4 L201.0,56.6 L201.5,56.7 L202.0,57.0 L202.5,55.8 L203.0,56.6 L203.5,56.8 L204.0,55.9 L204.5,55.5 L205.0,54.8 L205.5,53.9 L206.0,54.1 L206.5,53.6 L207.0,53.2 L207.5,53.5 L208.0,52.2 L208.5,51.5 L209.0,51.4 L209.5,49.6 L210.0,49.2 L210.5,49.0 L211.0,48.5 L211.5,48.8 L212.0,48.1 L212.5,48.8 L213.0,48.5 L213.5,48.0 L214.0,47.2 L214.5,47.0 L215.0,46.1 L215.5,44.5 L216.0,44.9 L216.5,45.1 L217.0,44.9 L217.5,45.5 L218.0,45.3 L218.5,44.8 L219.0,47.7 L219.5,48.7 L220.0,50.2 L220.5,50.3 L221.0,51.6 L221.5,51.9 L222.0,52.5 L222.5,52.4 L223.0,52.1 L223.5,53.8 L224.0,53.2 L224.5,54.1 L225.0,54.0 L225.5,54.3 L226.0,55.1 L226.5,54.7 L227.0,55.5 L227.5,54.6 L228.0,55.8 L228.5,55.7 L229.0,56.0 L229.5,56.4 L230.0,56.8 L230.5,57.6 L231.0,56.4 L231.5,57.5 L232.0,57.4 L232.5,58.5 L233.0,58.1 L233.5,58.7 L234.0,58.6 L234.5,59.2 L235.0,59.5 L235.5,59.0 L236.0,59.3 L236.5,58.8 L237.0,59.5 L237.5,59.8 L238.0,59.3 L238.5,60.0 L239.0,58.7 L239.5,58.9 L240.0,59.1 L240.5,59.5 L241.0,59.7 L241.5,59.7 L242.0,59.7 L242.5,60.1 L243.0,59.6 L243.5,59.3 L244.0,59.3 L244.5,60.8 L245.0,58.9 L245.5,59.8 L246.0,60.5 L246.5,60.1 L247.0,59.6 L247.5,60.0 L248.0,60.3 L248.5,60.5 L249.0,59.6 L249.5,60.3 L250.0,60.1 L250.5,60.5 L251.0,60.6 L251.5,59.7 L252.0,59.1 L252.5,59.8 L253.0,60.1 L253.5,59.4 L254.0,59.0 L254.5,59.7 L255.0,57.9 L255.5,58.5 L256.0,57.6 L256.5,57.6 L257.0,57.4 L257.5,57.8 L258.0,56.6 L258.5,56.7 L259.0,56.1 L259.5,57.0 L260.0,56.6 L260.5,57.1 L261.0,56.5 L261.5,56.9 L262.0,57.7 L262.5,57.3 L263.0,57.8 L263.5,57.9 L264.0,57.8 L264.5,57.4 L265.0,58.7 L265.5,58.5 L266.0,59.1 L266.5,58.0 L267.0,58.3 L267.5,58.2 L268.0,58.9 L268.5,59.8 L269.0,59.6 L269.5,59.4 L270.0,59.5 L270.5,59.7 L271.0,59.3 L271.5,59.5 L272.0,59.4 L272.5,58.4 L273.0,59.2 L273.5,59.9 L274.0,59.1 L274.5,59.2 L275.0,59.0 L275.5,59.1 L276.0,59.7 L276.5,59.1 L277.0,58.7 L277.5,57.8 L278.0,58.9 L278.5,58.3 L279.0,58.3 L279.5,59.4 L280.0,59.3 L280.5,58.1 L281.0,59.3 L281.5,59.1 L282.0,58.5 L282.5,59.1 L283.0,58.1 L283.5,58.2 L284.0,58.1 L284.5,58.2 L285.0,59.0 L285.5,58.0 L286.0,58.0 L286.5,58.1 L287.0,58.5 L287.5,58.2 L288.0,58.7 L288.5,57.9 L289.0,57.6 L289.5,57.9 L290.0,58.0 L290.5,57.5 L291.0,57.9 L291.5,58.5 L292.0,57.4 L292.5,57.5 L293.0,58.0 L293.5,57.0 L294.0,56.8 L294.5,56.5 L295.0,57.0 L295.5,56.9 L296.0,56.4 L296.5,56.2 L297.0,56.3 L297.5,55.8 L298.0,54.4 L298.5,54.5 L299.0,54.1 L299.5,53.9 L300.0,53.0 L300.5,52.3 L301.0,51.9 L301.5,50.9 L302.0,51.2 L302.5,50.5 L303.0,50.4 L303.5,49.2 L304.0,48.8 L304.5,48.1 L305.0,47.5 L305.5,47.8 L306.0,46.9 L306.5,47.0 L307.0,46.2 L307.5,46.6 L308.0,45.9 L308.5,46.6 L309.0,46.8 L309.5,47.5 L310.0,47.6 L310.5,47.7 L311.0,48.5 L311.5,48.5 L312.0,48.9 L312.5,49.3 L313.0,49.2 L313.5,49.2 L314.0,49.7 L314.5,49.5 L315.0,50.0 L315.5,50.5 L316.0,50.5 L316.5,50.1 L317.0,49.9 L317.5,50.5 L318.0,50.7 L318.5,51.3 L319.0,50.9 L319.5,51.1 L320.0,51.7 L320.5,51.4 L321.0,51.8 L321.5,52.9 L322.0,53.1 L322.5,53.1 L323.0,53.4 L323.5,53.3 L324.0,54.3 L324.5,54.6 L325.0,55.1 L325.5,55.3 L326.0,56.0 L326.5,56.5 L327.0,57.2 L327.5,58.2 L328.0,58.2 L328.5,57.9 L329.0,58.6 L329.5,58.8 L330.0,59.6 L330.5,60.6 L331.0,60.9 L331.5,60.9 L332.0,61.6 L332.5,61.5 L333.0,61.6 L333.5,62.0 L334.0,62.6 L334.5,63.9 L335.0,63.1 L335.5,64.5 L336.0,64.9 L336.5,64.6 L337.0,65.0 L337.5,65.1 L338.0,65.7 L338.5,66.3 L339.0,66.4 L339.5,67.1 L340.0,67.5 L340.5,67.5 L341.0,67.8 L341.5,68.0 L342.0,68.5 L342.5,68.3 L343.0,69.3 L343.5,69.6 L344.0,69.6 L344.5,71.2 L345.0,70.3 L345.5,70.8 L346.0,71.7 L346.5,71.1 L347.0,71.9 L347.5,72.0 L348.0,72.5 L348.5,73.2 L349.0,73.6 L349.5,74.2 L350.0,74.3 L350.5,74.6 L351.0,74.4 L351.5,74.1 L352.0,74.8 L352.5,74.1 L353.0,74.1 L353.5,75.0 L354.0,74.7 L354.5,74.5 L355.0,74.7 L355.5,74.8 L356.0,73.8 L356.5,74.4 L357.0,73.9 L357.5,74.5 L358.0,74.2 L358.5,75.0 L359.0,74.7 L359.5,74.1 L360.0,74.5 L360.5,74.0 L361.0,74.5 L361.5,74.7 L362.0,74.6 L362.5,73.7 L363.0,74.3 L363.5,74.7 L364.0,74.6 L364.5,75.0 L365.0,73.9 L365.5,74.7 L366.0,74.2 L366.5,74.6 L367.0,74.6 L367.5,74.8 L368.0,74.2 L368.5,74.5 L369.0,74.0 L369.5,73.9 L370.0,74.7 L370.5,74.4 L371.0,73.8 L371.5,74.1 L372.0,74.5 L372.5,75.1 L373.0,74.9 L373.5,74.8 L374.0,73.7 L374.5,74.4 L375.0,74.6 L375.5,74.6 L376.0,74.6 L376.5,74.3 L377.0,75.1 L377.5,75.0 L378.0,74.4 L378.5,74.0 L379.0,75.2 L379.5,74.1 L380.0,74.9 L380.5,75.2 L381.0,74.0 L381.5,74.5 L382.0,74.2 L382.5,74.6 L383.0,74.5 L383.5,75.1 L384.0,74.6 L384.5,74.3 L385.0,74.8 L385.5,74.2 L386.0,74.1 L386.5,75.2 L387.0,73.9 L387.5,74.0 L388.0,74.2 L388.5,73.8 L389.0,73.3 L389.5,74.5 L390.0,73.7 L390.5,73.8 L391.0,73.8 L391.5,73.4 L392.0,73.3 L392.5,73.7 L393.0,74.6 L393.5,73.8 L394.0,73.7 L394.5,72.6 L395.0,73.2 L395.5,72.6 L396.0,73.3 L396.5,72.7 L397.0,72.7 L397.5,72.5 L398.0,72.2 L398.5,71.7 L399.0,72.5 L399.5,71.5 L400.0,71.5 L400.5,71.7 L401.0,71.4 L401.5,71.7 L402.0,71.8 L402.5,71.4 L403.0,71.2 L403.5,70.9 L404.0,71.1 L404.5,69.7 L405.0,70.4 L405.5,69.6 L406.0,69.3 L406.5,69.5 L407.0,69.0 L407.5,69.1 L408.0,69.0 L408.5,67.2 L409.0,67.7 L409.5,68.2 L410.0,67.3 L410.5,67.1 L411.0,66.1 L411.5,64.9 L412.0,64.4 L412.5,64.6 L413.0,64.1 L413.5,62.8 L414.0,62.5 L414.5,62.2 L415.0,60.8 L415.5,61.0 L416.0,61.4 L416.5,61.2 L417.0,59.8 L417.5,60.2 L418.0,59.0 L418.5,58.6 L419.0,57.9 L419.5,59.1 L420.0,58.4 L420.5,59.4 L421.0,58.5 L421.5,58.5 L422.0,57.6 L422.5,59.0 L423.0,58.3 L423.5,58.4 L424.0,57.6 L424.5,59.1 L425.0,59.5 L425.5,59.2 L426.0,60.0 L426.5,60.7 L427.0,61.5 L427.5,61.7 L428.0,62.9 L428.5,62.5 L429.0,62.8 L429.5,63.4 L430.0,63.0 L430.5,64.1 L431.0,65.4 L431.5,65.5 L432.0,65.4 L432.5,66.3 L433.0,65.6 L433.5,66.7 L434.0,67.3 L434.5,67.7 L435.0,67.4 L435.5,68.3 L436.0,69.0 L436.5,68.3 L437.0,69.0 L437.5,68.2 L438.0,68.2 L438.5,69.4 L439.0,69.2 L439.5,69.4 L440.0,69.2 L440.5,69.4 L441.0,70.0 L441.5,70.5 L442.0,69.7 L442.5,69.2 L443.0,70.5 L443.5,70.3 L444.0,70.4 L444.5,70.3 L445.0,71.2 L445.5,70.4 L446.0,70.6 L446.5,69.7 L447.0,70.3 L447.5,70.3 L448.0,70.7 L448.5,70.9 L449.0,70.5 L449.5,71.6 L450.0,70.5 L450.5,70.8 L451.0,71.2 L451.5,70.7 L452.0,71.5 L452.5,71.6 L453.0,71.3 L453.5,72.3 L454.0,71.6 L454.5,71.7 L455.0,71.2 L455.5,71.0 L456.0,71.5 L456.5,71.7 L457.0,71.7 L457.5,72.3 L458.0,71.0 L458.5,71.6 L459.0,71.4 L459.5,72.8 L460.0,72.0 L460.5,72.1 L461.0,71.9 L461.5,72.8 L462.0,72.4 L462.5,72.7 L463.0,71.8 L463.5,73.2 L464.0,72.9 L464.5,73.0 L465.0,73.4 L465.5,72.8 L466.0,72.9 L466.5,73.3 L467.0,73.3 L467.5,73.0 L468.0,73.2 L468.5,73.0 L469.0,73.6 L469.5,73.7 L470.0,73.4 L470.5,74.2 L471.0,72.8 L471.5,73.4 L472.0,74.3 L472.5,73.5 L473.0,73.0 L473.5,74.3 L474.0,74.0 L474.5,73.3 L475.0,74.2 L475.5,73.5 L476.0,73.4 L476.5,74.0 L477.0,73.9 L477.5,73.7 L478.0,74.0 L478.5,73.8 L479.0,74.3 L479.5,74.3 L480.0,74.7 L480.5,74.2 L481.0,73.9 L481.5,73.9 L482.0,74.4 L482.5,75.2 L483.0,75.0 L483.5,74.4 L484.0,75.1 L484.5,74.2 L485.0,75.2 L485.5,74.6 L486.0,75.2 L486.5,75.1 L487.0,74.8 L487.5,75.1 L488.0,74.5 L488.5,75.0 L489.0,75.5 L489.5,76.8 L490.0,75.4 L490.5,75.2 L491.0,74.8 L491.5,75.7 L492.0,74.5 L492.5,74.9 L493.0,75.5 L493.5,74.8 L494.0,76.0 L494.5,75.8 L495.0,75.2 L495.5,75.2 L496.0,74.9 L496.5,74.9 L497.0,75.7 L497.5,75.8 L498.0,75.7 L498.5,75.7 L499.0,75.3 L499.5,75.8 L500.0,75.0 L500.5,75.6 L501.0,76.3 L501.5,76.2 L502.0,75.5 L502.5,75.6 L503.0,76.3 L503.5,76.5 L504.0,75.2 L504.5,75.6 L505.0,75.9 L505.5,76.4 L506.0,75.5 L506.5,76.2 L507.0,75.8 L507.5,76.9 L508.0,76.1 L508.5,75.9 L509.0,75.8 L509.5,76.4 L510.0,76.3 L510.5,75.6 L511.0,76.1 L511.5,75.5 L512.0,75.8 L512.5,75.5 L513.0,75.5 L513.5,75.8 L514.0,75.7 L514.5,76.4 L515.0,76.5 L515.5,76.1 L516.0,75.7 L516.5,76.5 L517.0,75.4 L517.5,75.4 L518.0,76.5 L518.5,76.5 L519.0,76.7 L519.5,76.2 L520.0,75.7 L520.5,76.0 L521.0,76.5 L521.5,75.9 L522.0,76.0 L522.5,75.7 L523.0,75.8"/>
</g>
<line x1="84" y1="16.7" x2="84" y2="343.4" stroke="#777" stroke-width="1.9" stroke-dasharray="8.8 7.93"/>
<rect x="50.4" y="9.7" width="473.7" height="386.2" fill="none" stroke="#000" stroke-width="1.8"/>
<line x1="50.40" y1="395.9" x2="50.40" y2="404.0" stroke="#000" stroke-width="1.8" stroke-linecap="round"/>
<line x1="109.61" y1="395.9" x2="109.61" y2="399.9" stroke="#000" stroke-width="1.8" stroke-linecap="round"/>
<line x1="168.82" y1="395.9" x2="168.82" y2="404.0" stroke="#000" stroke-width="1.8" stroke-linecap="round"/>
<line x1="228.04" y1="395.9" x2="228.04" y2="399.9" stroke="#000" stroke-width="1.8" stroke-linecap="round"/>
<line x1="287.25" y1="395.9" x2="287.25" y2="404.0" stroke="#000" stroke-width="1.8" stroke-linecap="round"/>
<line x1="346.46" y1="395.9" x2="346.46" y2="399.9" stroke="#000" stroke-width="1.8" stroke-linecap="round"/>
<line x1="405.67" y1="395.9" x2="405.67" y2="404.0" stroke="#000" stroke-width="1.8" stroke-linecap="round"/>
<line x1="464.89" y1="395.9" x2="464.89" y2="399.9" stroke="#000" stroke-width="1.8" stroke-linecap="round"/>
<line x1="524.10" y1="395.9" x2="524.10" y2="404.0" stroke="#000" stroke-width="1.8" stroke-linecap="round"/>
<g font-family="&quot;Liberation Serif&quot;, serif" font-weight="bold" fill="#000">
<text x="0" y="0" transform="translate(36.75,424.6) scale(0.92,1.06)" font-size="20">200</text>
<text x="0" y="0" transform="translate(155.53,424.6) scale(0.92,1.06)" font-size="20">400</text>
<text x="0" y="0" transform="translate(273.95,424.6) scale(0.92,1.06)" font-size="20">600</text>
<text x="0" y="0" transform="translate(392.25,424.6) scale(0.92,1.06)" font-size="20">800</text>
<text x="0" y="0" transform="translate(507.15,424.6) scale(0.88,1.06)" font-size="20">1000</text>
<text x="0" y="0" transform="translate(456.14,54.5) scale(0.8912,1.044)" font-size="24">BT4</text>
<text x="0" y="0" transform="translate(456.14,130) scale(0.8995,1.044)" font-size="24">BT3</text>
<text x="0" y="0" transform="translate(456.44,205) scale(0.8897,1.044)" font-size="24">BT2</text>
<text x="0" y="0" transform="translate(456.46,280.6) scale(0.8467,1.044)" font-size="24">BT1</text>
<text x="0" y="0" transform="translate(456.45,356.4) scale(0.8846,1.044)" font-size="24">BT</text>
<text x="0" y="0" transform="translate(215.13,462) scale(0.9206,1.03)" font-size="24">Raman shift/cm</text>
<text x="0" y="0" transform="translate(24.4,290.0) rotate(-90) scale(1.036,1.038)" font-size="24">Intensity/a.u.</text>
</g>
<text x="0" y="0" transform="translate(365.54,448.3) scale(0.9223,1.054)" font-family="&quot;Liberation Serif&quot;, serif" font-weight="bold" font-size="14" fill="#000">-1</text>
</svg>
</body></html>
